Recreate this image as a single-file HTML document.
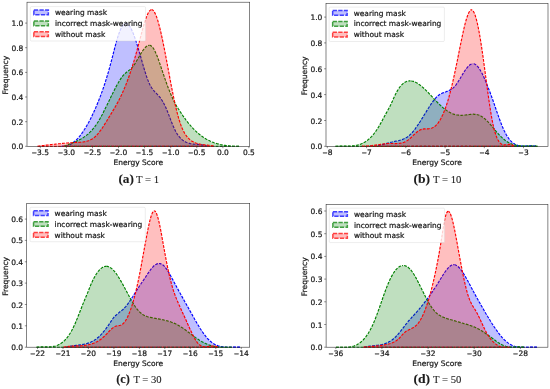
<!DOCTYPE html>
<html lang="en"><head><meta charset="utf-8"><title>Energy score distributions</title>
<style>html,body{margin:0;padding:0;background:#fff}svg{display:block}</style></head>
<body>
<svg width="550" height="389" viewBox="0 0 550 389" font-family="'DejaVu Sans', 'Liberation Sans', sans-serif" fill="#1a1a1a" stroke="#1a1a1a" stroke-width="0.22">
<defs><filter id="bl" x="-2%" y="-2%" width="104%" height="104%"><feGaussianBlur stdDeviation="0.45"/></filter></defs>
<g filter="url(#bl)">
<rect width="550" height="389" fill="#fff" stroke="none"/>
<g>
<clipPath id="cla"><rect x="27.0" y="2.2" width="222.7" height="144.8"/></clipPath>
<g clip-path="url(#cla)">
<path d="M61.6,146.3 L62.6,146.3 L63.6,146.3 L64.6,146.3 L65.6,146.2 L66.6,146.0 L67.6,145.7 L68.6,145.3 L69.6,144.9 L70.6,144.3 L71.6,143.7 L72.6,143.1 L73.6,142.3 L74.6,141.5 L75.6,140.6 L76.6,139.6 L77.6,138.6 L78.6,137.5 L79.6,136.3 L80.6,135.0 L81.6,133.7 L82.6,132.3 L83.6,130.8 L84.6,129.3 L85.6,127.7 L86.6,126.0 L87.6,124.3 L88.6,122.5 L89.6,120.6 L90.6,118.7 L91.6,116.7 L92.6,114.6 L93.6,112.4 L94.6,110.2 L95.6,108.0 L96.6,105.6 L97.6,103.2 L98.6,100.8 L99.6,98.2 L100.6,95.6 L101.6,92.9 L102.6,90.1 L103.6,87.2 L104.6,84.2 L105.6,81.1 L106.6,77.9 L107.6,74.6 L108.6,71.2 L109.6,67.6 L110.6,63.9 L111.6,60.1 L112.6,56.3 L113.6,52.3 L114.6,48.4 L115.6,44.6 L116.6,41.0 L117.6,37.6 L118.6,34.5 L119.6,31.7 L120.6,29.3 L121.6,27.2 L122.6,25.6 L123.6,24.5 L124.6,23.7 L125.6,23.4 L126.6,23.5 L127.6,24.0 L128.6,25.0 L129.6,26.2 L130.6,27.8 L131.6,29.8 L132.6,32.0 L133.6,34.4 L134.6,37.1 L135.6,40.0 L136.6,43.0 L137.6,46.2 L138.6,49.6 L139.6,53.0 L140.6,56.5 L141.6,60.0 L142.6,63.5 L143.6,67.0 L144.6,70.3 L145.6,73.5 L146.6,76.6 L147.6,79.4 L148.6,81.9 L149.6,84.2 L150.6,86.1 L151.6,87.8 L152.6,89.2 L153.6,90.4 L154.6,91.6 L155.6,92.6 L156.6,93.6 L157.6,94.6 L158.6,95.7 L159.6,96.9 L160.6,98.2 L161.6,99.7 L162.6,101.3 L163.6,103.1 L164.6,105.0 L165.6,107.1 L166.6,109.4 L167.6,111.8 L168.6,114.4 L169.6,117.0 L170.6,119.6 L171.6,122.2 L172.6,124.7 L173.6,127.0 L174.6,129.2 L175.6,131.2 L176.6,133.0 L177.6,134.6 L178.6,136.0 L179.6,137.2 L180.6,138.3 L181.6,139.2 L182.6,140.1 L183.6,140.8 L184.6,141.4 L185.6,142.0 L186.6,142.5 L187.6,142.8 L188.6,143.2 L189.6,143.4 L190.6,143.7 L191.6,143.8 L192.6,144.0 L193.6,144.1 L194.6,144.2 L195.6,144.3 L196.6,144.3 L197.6,144.4 L198.6,144.5 L199.6,144.6 L200.6,144.7 L201.6,144.9 L202.6,145.1 L203.6,145.3 L204.6,145.6 L205.6,145.8 L206.6,146.1 L207.6,146.3 Z" fill="#0000ff" fill-opacity="0.25" stroke="none"/>
<path d="M61.6,146.3 L62.6,146.3 L63.6,146.3 L64.6,146.3 L65.6,146.2 L66.6,146.0 L67.6,145.7 L68.6,145.3 L69.6,144.9 L70.6,144.3 L71.6,143.7 L72.6,143.1 L73.6,142.3 L74.6,141.5 L75.6,140.6 L76.6,139.6 L77.6,138.6 L78.6,137.5 L79.6,136.3 L80.6,135.0 L81.6,133.7 L82.6,132.3 L83.6,130.8 L84.6,129.3 L85.6,127.7 L86.6,126.0 L87.6,124.3 L88.6,122.5 L89.6,120.6 L90.6,118.7 L91.6,116.7 L92.6,114.6 L93.6,112.4 L94.6,110.2 L95.6,108.0 L96.6,105.6 L97.6,103.2 L98.6,100.8 L99.6,98.2 L100.6,95.6 L101.6,92.9 L102.6,90.1 L103.6,87.2 L104.6,84.2 L105.6,81.1 L106.6,77.9 L107.6,74.6 L108.6,71.2 L109.6,67.6 L110.6,63.9 L111.6,60.1 L112.6,56.3 L113.6,52.3 L114.6,48.4 L115.6,44.6 L116.6,41.0 L117.6,37.6 L118.6,34.5 L119.6,31.7 L120.6,29.3 L121.6,27.2 L122.6,25.6 L123.6,24.5 L124.6,23.7 L125.6,23.4" fill="none" stroke="#0000ff" stroke-width="1.15" stroke-dasharray="2.85 1.25"/>
<path d="M207.6,146.3 L206.6,146.1 L205.6,145.8 L204.6,145.6 L203.6,145.3 L202.6,145.1 L201.6,144.9 L200.6,144.7 L199.6,144.6 L198.6,144.5 L197.6,144.4 L196.6,144.3 L195.6,144.3 L194.6,144.2 L193.6,144.1 L192.6,144.0 L191.6,143.8 L190.6,143.7 L189.6,143.4 L188.6,143.2 L187.6,142.8 L186.6,142.5 L185.6,142.0 L184.6,141.4 L183.6,140.8 L182.6,140.1 L181.6,139.2 L180.6,138.3 L179.6,137.2 L178.6,136.0 L177.6,134.6 L176.6,133.0 L175.6,131.2 L174.6,129.2 L173.6,127.0 L172.6,124.7 L171.6,122.2 L170.6,119.6 L169.6,117.0 L168.6,114.4 L167.6,111.8 L166.6,109.4 L165.6,107.1 L164.6,105.0 L163.6,103.1 L162.6,101.3 L161.6,99.7 L160.6,98.2 L159.6,96.9 L158.6,95.7 L157.6,94.6 L156.6,93.6 L155.6,92.6 L154.6,91.6 L153.6,90.4 L152.6,89.2 L151.6,87.8 L150.6,86.1 L149.6,84.2 L148.6,81.9 L147.6,79.4 L146.6,76.6 L145.6,73.5 L144.6,70.3 L143.6,67.0 L142.6,63.5 L141.6,60.0 L140.6,56.5 L139.6,53.0 L138.6,49.6 L137.6,46.2 L136.6,43.0 L135.6,40.0 L134.6,37.1 L133.6,34.4 L132.6,32.0 L131.6,29.8 L130.6,27.8 L129.6,26.2 L128.6,25.0 L127.6,24.0 L126.6,23.5 L125.6,23.4" fill="none" stroke="#0000ff" stroke-width="1.15" stroke-dasharray="2.85 1.25"/>
<path d="M61.6,146.3 L125.6,146.3" fill="none" stroke="#0000ff" stroke-width="1.15" stroke-dasharray="2.85 1.25"/>
<path d="M207.6,146.3 L125.6,146.3" fill="none" stroke="#0000ff" stroke-width="1.15" stroke-dasharray="2.85 1.25"/>
<path d="M64.0,146.3 L65.0,145.9 L66.0,145.4 L67.0,145.0 L68.0,144.6 L69.0,144.2 L70.0,143.9 L71.0,143.5 L72.0,143.1 L73.0,142.7 L74.0,142.3 L75.0,141.9 L76.0,141.5 L77.0,141.0 L78.0,140.6 L79.0,140.1 L80.0,139.5 L81.0,139.0 L82.0,138.4 L83.0,137.8 L84.0,137.1 L85.0,136.4 L86.0,135.7 L87.0,134.9 L88.0,134.1 L89.0,133.1 L90.0,132.2 L91.0,131.2 L92.0,130.1 L93.0,128.9 L94.0,127.7 L95.0,126.4 L96.0,125.0 L97.0,123.5 L98.0,122.0 L99.0,120.3 L100.0,118.6 L101.0,116.8 L102.0,115.0 L103.0,113.1 L104.0,111.1 L105.0,109.1 L106.0,107.1 L107.0,105.1 L108.0,103.0 L109.0,100.9 L110.0,98.9 L111.0,96.8 L112.0,94.7 L113.0,92.7 L114.0,90.7 L115.0,88.8 L116.0,86.8 L117.0,85.0 L118.0,83.2 L119.0,81.5 L120.0,79.9 L121.0,78.4 L122.0,77.0 L123.0,75.7 L124.0,74.6 L125.0,73.6 L126.0,72.7 L127.0,71.9 L128.0,71.2 L129.0,70.4 L130.0,69.6 L131.0,68.7 L132.0,67.7 L133.0,66.5 L134.0,65.1 L135.0,63.6 L136.0,61.9 L137.0,60.2 L138.0,58.5 L139.0,56.8 L140.0,55.0 L141.0,53.4 L142.0,51.8 L143.0,50.3 L144.0,49.0 L145.0,47.8 L146.0,46.8 L147.0,46.0 L148.0,45.5 L149.0,45.3 L150.0,45.4 L151.0,45.8 L152.0,46.6 L153.0,47.8 L154.0,49.3 L155.0,51.2 L156.0,53.4 L157.0,55.8 L158.0,58.4 L159.0,61.2 L160.0,64.1 L161.0,67.1 L162.0,70.0 L163.0,73.0 L164.0,75.9 L165.0,78.9 L166.0,81.7 L167.0,84.5 L168.0,87.2 L169.0,89.8 L170.0,92.3 L171.0,94.7 L172.0,97.0 L173.0,99.2 L174.0,101.2 L175.0,103.2 L176.0,105.0 L177.0,106.7 L178.0,108.3 L179.0,109.8 L180.0,111.4 L181.0,112.9 L182.0,114.3 L183.0,115.8 L184.0,117.2 L185.0,118.6 L186.0,120.0 L187.0,121.3 L188.0,122.6 L189.0,123.8 L190.0,125.0 L191.0,126.2 L192.0,127.3 L193.0,128.4 L194.0,129.4 L195.0,130.4 L196.0,131.3 L197.0,132.3 L198.0,133.1 L199.0,134.0 L200.0,134.8 L201.0,135.5 L202.0,136.3 L203.0,137.0 L204.0,137.6 L205.0,138.3 L206.0,138.9 L207.0,139.4 L208.0,140.0 L209.0,140.5 L210.0,141.0 L211.0,141.4 L212.0,141.9 L213.0,142.3 L214.0,142.7 L215.0,143.0 L216.0,143.3 L217.0,143.7 L218.0,143.9 L219.0,144.2 L220.0,144.5 L221.0,144.7 L222.0,144.9 L223.0,145.1 L224.0,145.3 L225.0,145.4 L226.0,145.6 L227.0,145.7 L228.0,145.8 L229.0,145.9 L230.0,146.0 L231.0,146.1 L232.0,146.1 L233.0,146.2 L234.0,146.2 L235.0,146.2 L236.0,146.3 L237.0,146.3 L238.0,146.3 L239.0,146.3 Z" fill="#008000" fill-opacity="0.25" stroke="none"/>
<path d="M64.0,146.3 L65.0,145.9 L66.0,145.4 L67.0,145.0 L68.0,144.6 L69.0,144.2 L70.0,143.9 L71.0,143.5 L72.0,143.1 L73.0,142.7 L74.0,142.3 L75.0,141.9 L76.0,141.5 L77.0,141.0 L78.0,140.6 L79.0,140.1 L80.0,139.5 L81.0,139.0 L82.0,138.4 L83.0,137.8 L84.0,137.1 L85.0,136.4 L86.0,135.7 L87.0,134.9 L88.0,134.1 L89.0,133.1 L90.0,132.2 L91.0,131.2 L92.0,130.1 L93.0,128.9 L94.0,127.7 L95.0,126.4 L96.0,125.0 L97.0,123.5 L98.0,122.0 L99.0,120.3 L100.0,118.6 L101.0,116.8 L102.0,115.0 L103.0,113.1 L104.0,111.1 L105.0,109.1 L106.0,107.1 L107.0,105.1 L108.0,103.0 L109.0,100.9 L110.0,98.9 L111.0,96.8 L112.0,94.7 L113.0,92.7 L114.0,90.7 L115.0,88.8 L116.0,86.8 L117.0,85.0 L118.0,83.2 L119.0,81.5 L120.0,79.9 L121.0,78.4 L122.0,77.0 L123.0,75.7 L124.0,74.6 L125.0,73.6 L126.0,72.7 L127.0,71.9 L128.0,71.2 L129.0,70.4 L130.0,69.6 L131.0,68.7 L132.0,67.7 L133.0,66.5 L134.0,65.1 L135.0,63.6 L136.0,61.9 L137.0,60.2 L138.0,58.5 L139.0,56.8 L140.0,55.0 L141.0,53.4 L142.0,51.8 L143.0,50.3 L144.0,49.0 L145.0,47.8 L146.0,46.8 L147.0,46.0 L148.0,45.5 L149.0,45.3" fill="none" stroke="#008000" stroke-width="1.15" stroke-dasharray="2.85 1.25"/>
<path d="M239.0,146.3 L238.0,146.3 L237.0,146.3 L236.0,146.3 L235.0,146.2 L234.0,146.2 L233.0,146.2 L232.0,146.1 L231.0,146.1 L230.0,146.0 L229.0,145.9 L228.0,145.8 L227.0,145.7 L226.0,145.6 L225.0,145.4 L224.0,145.3 L223.0,145.1 L222.0,144.9 L221.0,144.7 L220.0,144.5 L219.0,144.2 L218.0,143.9 L217.0,143.7 L216.0,143.3 L215.0,143.0 L214.0,142.7 L213.0,142.3 L212.0,141.9 L211.0,141.4 L210.0,141.0 L209.0,140.5 L208.0,140.0 L207.0,139.4 L206.0,138.9 L205.0,138.3 L204.0,137.6 L203.0,137.0 L202.0,136.3 L201.0,135.5 L200.0,134.8 L199.0,134.0 L198.0,133.1 L197.0,132.3 L196.0,131.3 L195.0,130.4 L194.0,129.4 L193.0,128.4 L192.0,127.3 L191.0,126.2 L190.0,125.0 L189.0,123.8 L188.0,122.6 L187.0,121.3 L186.0,120.0 L185.0,118.6 L184.0,117.2 L183.0,115.8 L182.0,114.3 L181.0,112.9 L180.0,111.4 L179.0,109.8 L178.0,108.3 L177.0,106.7 L176.0,105.0 L175.0,103.2 L174.0,101.2 L173.0,99.2 L172.0,97.0 L171.0,94.7 L170.0,92.3 L169.0,89.8 L168.0,87.2 L167.0,84.5 L166.0,81.7 L165.0,78.9 L164.0,75.9 L163.0,73.0 L162.0,70.0 L161.0,67.1 L160.0,64.1 L159.0,61.2 L158.0,58.4 L157.0,55.8 L156.0,53.4 L155.0,51.2 L154.0,49.3 L153.0,47.8 L152.0,46.6 L151.0,45.8 L150.0,45.4 L149.0,45.3" fill="none" stroke="#008000" stroke-width="1.15" stroke-dasharray="2.85 1.25"/>
<path d="M64.0,146.3 L149.0,146.3" fill="none" stroke="#008000" stroke-width="1.15" stroke-dasharray="2.85 1.25"/>
<path d="M239.0,146.3 L149.0,146.3" fill="none" stroke="#008000" stroke-width="1.15" stroke-dasharray="2.85 1.25"/>
<path d="M37.6,146.3 L38.6,146.2 L39.6,146.0 L40.6,145.9 L41.6,145.8 L42.6,145.6 L43.6,145.5 L44.6,145.4 L45.6,145.2 L46.6,145.1 L47.6,145.0 L48.6,144.9 L49.6,144.8 L50.6,144.6 L51.6,144.5 L52.6,144.4 L53.6,144.3 L54.6,144.2 L55.6,144.1 L56.6,144.0 L57.6,143.9 L58.6,143.8 L59.6,143.7 L60.6,143.6 L61.6,143.5 L62.6,143.4 L63.6,143.3 L64.6,143.2 L65.6,143.1 L66.6,143.0 L67.6,143.0 L68.6,142.9 L69.6,142.8 L70.6,142.7 L71.6,142.7 L72.6,142.6 L73.6,142.5 L74.6,142.5 L75.6,142.4 L76.6,142.4 L77.6,142.3 L78.6,142.3 L79.6,142.2 L80.6,142.2 L81.6,142.1 L82.6,142.0 L83.6,141.9 L84.6,141.7 L85.6,141.5 L86.6,141.3 L87.6,141.0 L88.6,140.7 L89.6,140.3 L90.6,139.8 L91.6,139.3 L92.6,138.7 L93.6,138.0 L94.6,137.2 L95.6,136.3 L96.6,135.3 L97.6,134.2 L98.6,133.0 L99.6,131.7 L100.6,130.4 L101.6,129.0 L102.6,127.5 L103.6,126.0 L104.6,124.4 L105.6,122.8 L106.6,121.2 L107.6,119.5 L108.6,117.9 L109.6,116.2 L110.6,114.6 L111.6,112.9 L112.6,111.3 L113.6,109.6 L114.6,107.9 L115.6,106.2 L116.6,104.4 L117.6,102.6 L118.6,100.8 L119.6,98.8 L120.6,96.8 L121.6,94.7 L122.6,92.6 L123.6,90.3 L124.6,87.9 L125.6,85.5 L126.6,82.9 L127.6,80.3 L128.6,77.5 L129.6,74.7 L130.6,71.7 L131.6,68.7 L132.6,65.5 L133.6,62.3 L134.6,58.9 L135.6,55.4 L136.6,51.9 L137.6,48.2 L138.6,44.4 L139.6,40.6 L140.6,36.8 L141.6,33.0 L142.6,29.3 L143.6,25.7 L144.6,22.4 L145.6,19.3 L146.6,16.5 L147.6,14.2 L148.6,12.2 L149.6,10.8 L150.6,9.9 L151.6,9.6 L152.6,9.9 L153.6,10.9 L154.6,12.4 L155.6,14.4 L156.6,16.9 L157.6,19.9 L158.6,23.3 L159.6,27.1 L160.6,31.2 L161.6,35.6 L162.6,40.2 L163.6,45.1 L164.6,50.1 L165.6,55.3 L166.6,60.6 L167.6,66.0 L168.6,71.3 L169.6,76.7 L170.6,82.0 L171.6,87.2 L172.6,92.2 L173.6,97.1 L174.6,101.8 L175.6,106.3 L176.6,110.4 L177.6,114.3 L178.6,118.0 L179.6,121.3 L180.6,124.3 L181.6,127.0 L182.6,129.3 L183.6,131.4 L184.6,133.2 L185.6,134.8 L186.6,136.2 L187.6,137.4 L188.6,138.4 L189.6,139.4 L190.6,140.2 L191.6,140.9 L192.6,141.5 L193.6,142.1 L194.6,142.5 L195.6,143.0 L196.6,143.3 L197.6,143.6 L198.6,143.9 L199.6,144.1 L200.6,144.3 L201.6,144.5 L202.6,144.6 L203.6,144.7 L204.6,144.8 L205.6,144.9 L206.6,145.0 L207.6,145.1 L208.6,145.2 L209.6,145.3 L210.6,145.5 L211.6,145.7 L212.6,145.9 L213.6,146.3 Z" fill="#ff0000" fill-opacity="0.25" stroke="none"/>
<path d="M37.6,146.3 L38.6,146.2 L39.6,146.0 L40.6,145.9 L41.6,145.8 L42.6,145.6 L43.6,145.5 L44.6,145.4 L45.6,145.2 L46.6,145.1 L47.6,145.0 L48.6,144.9 L49.6,144.8 L50.6,144.6 L51.6,144.5 L52.6,144.4 L53.6,144.3 L54.6,144.2 L55.6,144.1 L56.6,144.0 L57.6,143.9 L58.6,143.8 L59.6,143.7 L60.6,143.6 L61.6,143.5 L62.6,143.4 L63.6,143.3 L64.6,143.2 L65.6,143.1 L66.6,143.0 L67.6,143.0 L68.6,142.9 L69.6,142.8 L70.6,142.7 L71.6,142.7 L72.6,142.6 L73.6,142.5 L74.6,142.5 L75.6,142.4 L76.6,142.4 L77.6,142.3 L78.6,142.3 L79.6,142.2 L80.6,142.2 L81.6,142.1 L82.6,142.0 L83.6,141.9 L84.6,141.7 L85.6,141.5 L86.6,141.3 L87.6,141.0 L88.6,140.7 L89.6,140.3 L90.6,139.8 L91.6,139.3 L92.6,138.7 L93.6,138.0 L94.6,137.2 L95.6,136.3 L96.6,135.3 L97.6,134.2 L98.6,133.0 L99.6,131.7 L100.6,130.4 L101.6,129.0 L102.6,127.5 L103.6,126.0 L104.6,124.4 L105.6,122.8 L106.6,121.2 L107.6,119.5 L108.6,117.9 L109.6,116.2 L110.6,114.6 L111.6,112.9 L112.6,111.3 L113.6,109.6 L114.6,107.9 L115.6,106.2 L116.6,104.4 L117.6,102.6 L118.6,100.8 L119.6,98.8 L120.6,96.8 L121.6,94.7 L122.6,92.6 L123.6,90.3 L124.6,87.9 L125.6,85.5 L126.6,82.9 L127.6,80.3 L128.6,77.5 L129.6,74.7 L130.6,71.7 L131.6,68.7 L132.6,65.5 L133.6,62.3 L134.6,58.9 L135.6,55.4 L136.6,51.9 L137.6,48.2 L138.6,44.4 L139.6,40.6 L140.6,36.8 L141.6,33.0 L142.6,29.3 L143.6,25.7 L144.6,22.4 L145.6,19.3 L146.6,16.5 L147.6,14.2 L148.6,12.2 L149.6,10.8 L150.6,9.9 L151.6,9.6" fill="none" stroke="#ff0000" stroke-width="1.15" stroke-dasharray="2.85 1.25"/>
<path d="M213.6,146.3 L212.6,145.9 L211.6,145.7 L210.6,145.5 L209.6,145.3 L208.6,145.2 L207.6,145.1 L206.6,145.0 L205.6,144.9 L204.6,144.8 L203.6,144.7 L202.6,144.6 L201.6,144.5 L200.6,144.3 L199.6,144.1 L198.6,143.9 L197.6,143.6 L196.6,143.3 L195.6,143.0 L194.6,142.5 L193.6,142.1 L192.6,141.5 L191.6,140.9 L190.6,140.2 L189.6,139.4 L188.6,138.4 L187.6,137.4 L186.6,136.2 L185.6,134.8 L184.6,133.2 L183.6,131.4 L182.6,129.3 L181.6,127.0 L180.6,124.3 L179.6,121.3 L178.6,118.0 L177.6,114.3 L176.6,110.4 L175.6,106.3 L174.6,101.8 L173.6,97.1 L172.6,92.2 L171.6,87.2 L170.6,82.0 L169.6,76.7 L168.6,71.3 L167.6,66.0 L166.6,60.6 L165.6,55.3 L164.6,50.1 L163.6,45.1 L162.6,40.2 L161.6,35.6 L160.6,31.2 L159.6,27.1 L158.6,23.3 L157.6,19.9 L156.6,16.9 L155.6,14.4 L154.6,12.4 L153.6,10.9 L152.6,9.9 L151.6,9.6" fill="none" stroke="#ff0000" stroke-width="1.15" stroke-dasharray="2.85 1.25"/>
<path d="M37.6,146.3 L151.6,146.3" fill="none" stroke="#ff0000" stroke-width="1.15" stroke-dasharray="2.85 1.25"/>
<path d="M213.6,146.3 L151.6,146.3" fill="none" stroke="#ff0000" stroke-width="1.15" stroke-dasharray="2.85 1.25"/>
</g>
<rect x="27.0" y="2.2" width="222.7" height="144.1" fill="none" stroke="#333" stroke-width="0.6"/>
<path d="M40.3,146.3 v1.9" stroke="#222" stroke-width="0.5"/>
<text x="40.3" y="155.4" text-anchor="middle" font-size="7.5"><tspan font-size="6.6">−</tspan>3.5</text>
<path d="M66.4,146.3 v1.9" stroke="#222" stroke-width="0.5"/>
<text x="66.4" y="155.4" text-anchor="middle" font-size="7.5"><tspan font-size="6.6">−</tspan>3.0</text>
<path d="M92.5,146.3 v1.9" stroke="#222" stroke-width="0.5"/>
<text x="92.5" y="155.4" text-anchor="middle" font-size="7.5"><tspan font-size="6.6">−</tspan>2.5</text>
<path d="M118.5,146.3 v1.9" stroke="#222" stroke-width="0.5"/>
<text x="118.5" y="155.4" text-anchor="middle" font-size="7.5"><tspan font-size="6.6">−</tspan>2.0</text>
<path d="M144.6,146.3 v1.9" stroke="#222" stroke-width="0.5"/>
<text x="144.6" y="155.4" text-anchor="middle" font-size="7.5"><tspan font-size="6.6">−</tspan>1.5</text>
<path d="M170.7,146.3 v1.9" stroke="#222" stroke-width="0.5"/>
<text x="170.7" y="155.4" text-anchor="middle" font-size="7.5"><tspan font-size="6.6">−</tspan>1.0</text>
<path d="M196.8,146.3 v1.9" stroke="#222" stroke-width="0.5"/>
<text x="196.8" y="155.4" text-anchor="middle" font-size="7.5"><tspan font-size="6.6">−</tspan>0.5</text>
<path d="M222.9,146.3 v1.9" stroke="#222" stroke-width="0.5"/>
<text x="222.9" y="155.4" text-anchor="middle" font-size="7.5">0.0</text>
<path d="M248.9,146.3 v1.9" stroke="#222" stroke-width="0.5"/>
<text x="248.9" y="155.4" text-anchor="middle" font-size="7.5">0.5</text>
<path d="M27.0,146.3 h-1.9" stroke="#222" stroke-width="0.5"/>
<text x="23.4" y="149.3" text-anchor="end" font-size="7.5">0.0</text>
<path d="M27.0,121.7 h-1.9" stroke="#222" stroke-width="0.5"/>
<text x="23.4" y="124.7" text-anchor="end" font-size="7.5">0.2</text>
<path d="M27.0,97.0 h-1.9" stroke="#222" stroke-width="0.5"/>
<text x="23.4" y="100.0" text-anchor="end" font-size="7.5">0.4</text>
<path d="M27.0,72.4 h-1.9" stroke="#222" stroke-width="0.5"/>
<text x="23.4" y="75.4" text-anchor="end" font-size="7.5">0.6</text>
<path d="M27.0,47.7 h-1.9" stroke="#222" stroke-width="0.5"/>
<text x="23.4" y="50.7" text-anchor="end" font-size="7.5">0.8</text>
<path d="M27.0,23.1 h-1.9" stroke="#222" stroke-width="0.5"/>
<text x="23.4" y="26.1" text-anchor="end" font-size="7.5">1.0</text>
<text x="138.3" y="164.5" text-anchor="middle" font-size="7.5">Energy Score</text>
<text transform="translate(8.3,75.2) rotate(-90)" text-anchor="middle" font-size="7.5">Frequency</text>
<rect x="30.3" y="6.6" width="115.3" height="34.4" rx="1.2" fill="#fff" fill-opacity="0.8" stroke="#ccc" stroke-opacity="0.8" stroke-width="0.45"/>
<rect x="33.85" y="10.05" width="14.5" height="4.7" fill="#0000ff" fill-opacity="0.25" stroke="#0000ff" stroke-width="1.5" stroke-opacity="0.72" stroke-dasharray="4.3 1.3"/>
<text x="54.9" y="15.05" font-size="7.45">wearing mask</text>
<rect x="33.85" y="20.95" width="14.5" height="4.7" fill="#008000" fill-opacity="0.25" stroke="#008000" stroke-width="1.5" stroke-opacity="0.72" stroke-dasharray="4.3 1.3"/>
<text x="54.9" y="25.95" font-size="7.45">incorrect mask-wearing</text>
<rect x="33.85" y="31.85" width="14.5" height="4.7" fill="#ff0000" fill-opacity="0.25" stroke="#ff0000" stroke-width="1.5" stroke-opacity="0.72" stroke-dasharray="4.3 1.3"/>
<text x="54.9" y="36.85" font-size="7.45">without mask</text>
<text x="118.4" y="182.5" font-family="'Liberation Serif', 'DejaVu Serif', serif" font-size="11.9" font-weight="bold" fill="#1c1c1c" stroke-width="0.1" textLength="15.5" lengthAdjust="spacingAndGlyphs">(a)</text>
<text x="136.0" y="182.5" font-family="'Liberation Serif', 'DejaVu Serif', serif" font-size="11.2" fill="#1c1c1c" stroke-width="0.1" textLength="23.1" lengthAdjust="spacingAndGlyphs">T = 1</text>
</g>
<g>
<clipPath id="clb"><rect x="326.0" y="3.5" width="222.0" height="143.5"/></clipPath>
<g clip-path="url(#clb)">
<path d="M370.0,146.3 L371.0,146.3 L372.0,146.3 L373.0,146.3 L374.0,146.3 L375.0,146.2 L376.0,146.0 L377.0,145.9 L378.0,145.7 L379.0,145.5 L380.0,145.2 L381.0,145.0 L382.0,144.7 L383.0,144.4 L384.0,144.2 L385.0,143.9 L386.0,143.6 L387.0,143.3 L388.0,143.0 L389.0,142.7 L390.0,142.5 L391.0,142.2 L392.0,142.0 L393.0,141.7 L394.0,141.5 L395.0,141.3 L396.0,141.1 L397.0,140.9 L398.0,140.7 L399.0,140.5 L400.0,140.2 L401.0,139.9 L402.0,139.6 L403.0,139.2 L404.0,138.8 L405.0,138.3 L406.0,137.8 L407.0,137.2 L408.0,136.5 L409.0,135.7 L410.0,134.8 L411.0,133.8 L412.0,132.8 L413.0,131.6 L414.0,130.4 L415.0,129.1 L416.0,127.7 L417.0,126.3 L418.0,124.8 L419.0,123.3 L420.0,121.8 L421.0,120.2 L422.0,118.6 L423.0,117.0 L424.0,115.3 L425.0,113.7 L426.0,112.1 L427.0,110.4 L428.0,108.8 L429.0,107.3 L430.0,105.7 L431.0,104.2 L432.0,102.8 L433.0,101.4 L434.0,100.1 L435.0,98.8 L436.0,97.7 L437.0,96.7 L438.0,95.8 L439.0,95.0 L440.0,94.3 L441.0,93.8 L442.0,93.3 L443.0,92.9 L444.0,92.5 L445.0,92.1 L446.0,91.8 L447.0,91.4 L448.0,91.1 L449.0,90.6 L450.0,90.1 L451.0,89.6 L452.0,88.9 L453.0,88.1 L454.0,87.2 L455.0,86.1 L456.0,84.8 L457.0,83.4 L458.0,81.9 L459.0,80.3 L460.0,78.7 L461.0,77.0 L462.0,75.3 L463.0,73.6 L464.0,72.0 L465.0,70.5 L466.0,69.1 L467.0,67.8 L468.0,66.6 L469.0,65.6 L470.0,64.8 L471.0,64.2 L472.0,63.8 L473.0,63.7 L474.0,63.8 L475.0,64.2 L476.0,64.9 L477.0,65.8 L478.0,66.9 L479.0,68.2 L480.0,69.7 L481.0,71.5 L482.0,73.3 L483.0,75.3 L484.0,77.5 L485.0,79.8 L486.0,82.1 L487.0,84.6 L488.0,87.1 L489.0,89.7 L490.0,92.3 L491.0,95.0 L492.0,97.7 L493.0,100.5 L494.0,103.4 L495.0,106.3 L496.0,109.2 L497.0,112.1 L498.0,114.9 L499.0,117.8 L500.0,120.5 L501.0,123.1 L502.0,125.7 L503.0,128.1 L504.0,130.3 L505.0,132.3 L506.0,134.2 L507.0,135.9 L508.0,137.4 L509.0,138.8 L510.0,140.0 L511.0,141.1 L512.0,142.1 L513.0,142.9 L514.0,143.6 L515.0,144.2 L516.0,144.7 L517.0,145.1 L518.0,145.5 L519.0,145.7 L520.0,145.9 L521.0,146.1 L522.0,146.1 L523.0,146.2 L524.0,146.2 L525.0,146.1 L526.0,146.1 L527.0,146.0 L528.0,146.0 L529.0,145.9 L530.0,145.9 L531.0,145.8 L532.0,145.8 L533.0,145.9 L534.0,146.0 L535.0,146.1 L536.0,146.3 Z" fill="#0000ff" fill-opacity="0.25" stroke="none"/>
<path d="M370.0,146.3 L371.0,146.3 L372.0,146.3 L373.0,146.3 L374.0,146.3 L375.0,146.2 L376.0,146.0 L377.0,145.9 L378.0,145.7 L379.0,145.5 L380.0,145.2 L381.0,145.0 L382.0,144.7 L383.0,144.4 L384.0,144.2 L385.0,143.9 L386.0,143.6 L387.0,143.3 L388.0,143.0 L389.0,142.7 L390.0,142.5 L391.0,142.2 L392.0,142.0 L393.0,141.7 L394.0,141.5 L395.0,141.3 L396.0,141.1 L397.0,140.9 L398.0,140.7 L399.0,140.5 L400.0,140.2 L401.0,139.9 L402.0,139.6 L403.0,139.2 L404.0,138.8 L405.0,138.3 L406.0,137.8 L407.0,137.2 L408.0,136.5 L409.0,135.7 L410.0,134.8 L411.0,133.8 L412.0,132.8 L413.0,131.6 L414.0,130.4 L415.0,129.1 L416.0,127.7 L417.0,126.3 L418.0,124.8 L419.0,123.3 L420.0,121.8 L421.0,120.2 L422.0,118.6 L423.0,117.0 L424.0,115.3 L425.0,113.7 L426.0,112.1 L427.0,110.4 L428.0,108.8 L429.0,107.3 L430.0,105.7 L431.0,104.2 L432.0,102.8 L433.0,101.4 L434.0,100.1 L435.0,98.8 L436.0,97.7 L437.0,96.7 L438.0,95.8 L439.0,95.0 L440.0,94.3 L441.0,93.8 L442.0,93.3 L443.0,92.9 L444.0,92.5 L445.0,92.1 L446.0,91.8 L447.0,91.4 L448.0,91.1 L449.0,90.6 L450.0,90.1 L451.0,89.6 L452.0,88.9 L453.0,88.1 L454.0,87.2 L455.0,86.1 L456.0,84.8 L457.0,83.4 L458.0,81.9 L459.0,80.3 L460.0,78.7 L461.0,77.0 L462.0,75.3 L463.0,73.6 L464.0,72.0 L465.0,70.5 L466.0,69.1 L467.0,67.8 L468.0,66.6 L469.0,65.6 L470.0,64.8 L471.0,64.2 L472.0,63.8 L473.0,63.7" fill="none" stroke="#0000ff" stroke-width="1.15" stroke-dasharray="2.85 1.25"/>
<path d="M536.0,146.3 L535.0,146.1 L534.0,146.0 L533.0,145.9 L532.0,145.8 L531.0,145.8 L530.0,145.9 L529.0,145.9 L528.0,146.0 L527.0,146.0 L526.0,146.1 L525.0,146.1 L524.0,146.2 L523.0,146.2 L522.0,146.1 L521.0,146.1 L520.0,145.9 L519.0,145.7 L518.0,145.5 L517.0,145.1 L516.0,144.7 L515.0,144.2 L514.0,143.6 L513.0,142.9 L512.0,142.1 L511.0,141.1 L510.0,140.0 L509.0,138.8 L508.0,137.4 L507.0,135.9 L506.0,134.2 L505.0,132.3 L504.0,130.3 L503.0,128.1 L502.0,125.7 L501.0,123.1 L500.0,120.5 L499.0,117.8 L498.0,114.9 L497.0,112.1 L496.0,109.2 L495.0,106.3 L494.0,103.4 L493.0,100.5 L492.0,97.7 L491.0,95.0 L490.0,92.3 L489.0,89.7 L488.0,87.1 L487.0,84.6 L486.0,82.1 L485.0,79.8 L484.0,77.5 L483.0,75.3 L482.0,73.3 L481.0,71.5 L480.0,69.7 L479.0,68.2 L478.0,66.9 L477.0,65.8 L476.0,64.9 L475.0,64.2 L474.0,63.8 L473.0,63.7" fill="none" stroke="#0000ff" stroke-width="1.15" stroke-dasharray="2.85 1.25"/>
<path d="M370.0,146.3 L473.0,146.3" fill="none" stroke="#0000ff" stroke-width="1.15" stroke-dasharray="2.85 1.25"/>
<path d="M536.0,146.3 L473.0,146.3" fill="none" stroke="#0000ff" stroke-width="1.15" stroke-dasharray="2.85 1.25"/>
<path d="M335.5,146.3 L336.5,146.2 L337.5,146.2 L338.5,146.1 L339.5,146.1 L340.5,146.1 L341.5,146.1 L342.5,146.1 L343.5,146.1 L344.5,146.1 L345.5,146.1 L346.5,146.1 L347.5,146.1 L348.5,146.1 L349.5,146.1 L350.5,146.1 L351.5,146.0 L352.5,145.9 L353.5,145.8 L354.5,145.7 L355.5,145.5 L356.5,145.3 L357.5,145.1 L358.5,144.8 L359.5,144.5 L360.5,144.2 L361.5,143.8 L362.5,143.3 L363.5,142.8 L364.5,142.3 L365.5,141.7 L366.5,141.0 L367.5,140.2 L368.5,139.4 L369.5,138.6 L370.5,137.6 L371.5,136.6 L372.5,135.5 L373.5,134.3 L374.5,133.0 L375.5,131.7 L376.5,130.2 L377.5,128.7 L378.5,127.1 L379.5,125.4 L380.5,123.6 L381.5,121.8 L382.5,119.9 L383.5,118.1 L384.5,116.2 L385.5,114.4 L386.5,112.6 L387.5,110.8 L388.5,109.0 L389.5,107.2 L390.5,105.3 L391.5,103.1 L392.5,100.9 L393.5,98.6 L394.5,96.4 L395.5,94.3 L396.5,92.3 L397.5,90.6 L398.5,89.0 L399.5,87.5 L400.5,86.2 L401.5,85.1 L402.5,84.1 L403.5,83.3 L404.5,82.6 L405.5,82.0 L406.5,81.5 L407.5,81.2 L408.5,81.0 L409.5,80.9 L410.5,80.9 L411.5,81.0 L412.5,81.2 L413.5,81.4 L414.5,81.8 L415.5,82.2 L416.5,82.8 L417.5,83.3 L418.5,84.0 L419.5,84.7 L420.5,85.4 L421.5,86.3 L422.5,87.1 L423.5,88.0 L424.5,88.9 L425.5,89.9 L426.5,90.9 L427.5,91.9 L428.5,92.9 L429.5,94.0 L430.5,95.0 L431.5,96.1 L432.5,97.2 L433.5,98.3 L434.5,99.3 L435.5,100.4 L436.5,101.4 L437.5,102.5 L438.5,103.5 L439.5,104.5 L440.5,105.4 L441.5,106.3 L442.5,107.2 L443.5,108.1 L444.5,108.9 L445.5,109.7 L446.5,110.4 L447.5,111.1 L448.5,111.7 L449.5,112.3 L450.5,112.8 L451.5,113.3 L452.5,113.7 L453.5,114.1 L454.5,114.4 L455.5,114.7 L456.5,114.9 L457.5,115.0 L458.5,115.1 L459.5,115.2 L460.5,115.3 L461.5,115.3 L462.5,115.2 L463.5,115.2 L464.5,115.1 L465.5,115.0 L466.5,114.9 L467.5,114.8 L468.5,114.6 L469.5,114.5 L470.5,114.4 L471.5,114.3 L472.5,114.3 L473.5,114.2 L474.5,114.3 L475.5,114.3 L476.5,114.5 L477.5,114.7 L478.5,115.0 L479.5,115.3 L480.5,115.8 L481.5,116.4 L482.5,117.0 L483.5,117.7 L484.5,118.5 L485.5,119.4 L486.5,120.4 L487.5,121.4 L488.5,122.4 L489.5,123.5 L490.5,124.7 L491.5,125.8 L492.5,127.0 L493.5,128.2 L494.5,129.4 L495.5,130.6 L496.5,131.8 L497.5,133.0 L498.5,134.1 L499.5,135.2 L500.5,136.2 L501.5,137.2 L502.5,138.1 L503.5,139.0 L504.5,139.8 L505.5,140.6 L506.5,141.3 L507.5,141.9 L508.5,142.5 L509.5,143.0 L510.5,143.5 L511.5,143.9 L512.5,144.3 L513.5,144.6 L514.5,144.9 L515.5,145.1 L516.5,145.3 L517.5,145.5 L518.5,145.7 L519.5,145.8 L520.5,145.9 L521.5,145.9 L522.5,146.0 L523.5,146.0 L524.5,146.0 L525.5,146.0 L526.5,146.0 L527.5,146.0 L528.5,146.0 L529.5,146.0 L530.5,146.0 L531.5,146.0 L532.5,146.0 L533.5,146.0 L534.5,146.0 L535.5,146.1 L536.5,146.2 L537.5,146.3 Z" fill="#008000" fill-opacity="0.25" stroke="none"/>
<path d="M335.5,146.3 L336.5,146.2 L337.5,146.2 L338.5,146.1 L339.5,146.1 L340.5,146.1 L341.5,146.1 L342.5,146.1 L343.5,146.1 L344.5,146.1 L345.5,146.1 L346.5,146.1 L347.5,146.1 L348.5,146.1 L349.5,146.1 L350.5,146.1 L351.5,146.0 L352.5,145.9 L353.5,145.8 L354.5,145.7 L355.5,145.5 L356.5,145.3 L357.5,145.1 L358.5,144.8 L359.5,144.5 L360.5,144.2 L361.5,143.8 L362.5,143.3 L363.5,142.8 L364.5,142.3 L365.5,141.7 L366.5,141.0 L367.5,140.2 L368.5,139.4 L369.5,138.6 L370.5,137.6 L371.5,136.6 L372.5,135.5 L373.5,134.3 L374.5,133.0 L375.5,131.7 L376.5,130.2 L377.5,128.7 L378.5,127.1 L379.5,125.4 L380.5,123.6 L381.5,121.8 L382.5,119.9 L383.5,118.1 L384.5,116.2 L385.5,114.4 L386.5,112.6 L387.5,110.8 L388.5,109.0 L389.5,107.2 L390.5,105.3 L391.5,103.1 L392.5,100.9 L393.5,98.6 L394.5,96.4 L395.5,94.3 L396.5,92.3 L397.5,90.6 L398.5,89.0 L399.5,87.5 L400.5,86.2 L401.5,85.1 L402.5,84.1 L403.5,83.3 L404.5,82.6 L405.5,82.0 L406.5,81.5 L407.5,81.2 L408.5,81.0 L409.5,80.9 L410.5,80.9" fill="none" stroke="#008000" stroke-width="1.15" stroke-dasharray="2.85 1.25"/>
<path d="M537.5,146.3 L536.5,146.2 L535.5,146.1 L534.5,146.0 L533.5,146.0 L532.5,146.0 L531.5,146.0 L530.5,146.0 L529.5,146.0 L528.5,146.0 L527.5,146.0 L526.5,146.0 L525.5,146.0 L524.5,146.0 L523.5,146.0 L522.5,146.0 L521.5,145.9 L520.5,145.9 L519.5,145.8 L518.5,145.7 L517.5,145.5 L516.5,145.3 L515.5,145.1 L514.5,144.9 L513.5,144.6 L512.5,144.3 L511.5,143.9 L510.5,143.5 L509.5,143.0 L508.5,142.5 L507.5,141.9 L506.5,141.3 L505.5,140.6 L504.5,139.8 L503.5,139.0 L502.5,138.1 L501.5,137.2 L500.5,136.2 L499.5,135.2 L498.5,134.1 L497.5,133.0 L496.5,131.8 L495.5,130.6 L494.5,129.4 L493.5,128.2 L492.5,127.0 L491.5,125.8 L490.5,124.7 L489.5,123.5 L488.5,122.4 L487.5,121.4 L486.5,120.4 L485.5,119.4 L484.5,118.5 L483.5,117.7 L482.5,117.0 L481.5,116.4 L480.5,115.8 L479.5,115.3 L478.5,115.0 L477.5,114.7 L476.5,114.5 L475.5,114.3 L474.5,114.3 L473.5,114.2 L472.5,114.3 L471.5,114.3 L470.5,114.4 L469.5,114.5 L468.5,114.6 L467.5,114.8 L466.5,114.9 L465.5,115.0 L464.5,115.1 L463.5,115.2 L462.5,115.2 L461.5,115.3 L460.5,115.3 L459.5,115.2 L458.5,115.1 L457.5,115.0 L456.5,114.9 L455.5,114.7 L454.5,114.4 L453.5,114.1 L452.5,113.7 L451.5,113.3 L450.5,112.8 L449.5,112.3 L448.5,111.7 L447.5,111.1 L446.5,110.4 L445.5,109.7 L444.5,108.9 L443.5,108.1 L442.5,107.2 L441.5,106.3 L440.5,105.4 L439.5,104.5 L438.5,103.5 L437.5,102.5 L436.5,101.4 L435.5,100.4 L434.5,99.3 L433.5,98.3 L432.5,97.2 L431.5,96.1 L430.5,95.0 L429.5,94.0 L428.5,92.9 L427.5,91.9 L426.5,90.9 L425.5,89.9 L424.5,88.9 L423.5,88.0 L422.5,87.1 L421.5,86.3 L420.5,85.4 L419.5,84.7 L418.5,84.0 L417.5,83.3 L416.5,82.8 L415.5,82.2 L414.5,81.8 L413.5,81.4 L412.5,81.2 L411.5,81.0 L410.5,80.9" fill="none" stroke="#008000" stroke-width="1.15" stroke-dasharray="2.85 1.25"/>
<path d="M335.5,146.3 L410.5,146.3" fill="none" stroke="#008000" stroke-width="1.15" stroke-dasharray="2.85 1.25"/>
<path d="M537.5,146.3 L410.5,146.3" fill="none" stroke="#008000" stroke-width="1.15" stroke-dasharray="2.85 1.25"/>
<path d="M362.0,146.3 L363.0,146.3 L364.0,146.3 L365.0,146.3 L366.0,146.2 L367.0,146.1 L368.0,146.0 L369.0,145.9 L370.0,145.8 L371.0,145.7 L372.0,145.6 L373.0,145.4 L374.0,145.3 L375.0,145.1 L376.0,145.0 L377.0,144.8 L378.0,144.7 L379.0,144.5 L380.0,144.4 L381.0,144.2 L382.0,144.1 L383.0,144.0 L384.0,143.9 L385.0,143.8 L386.0,143.7 L387.0,143.6 L388.0,143.5 L389.0,143.5 L390.0,143.5 L391.0,143.5 L392.0,143.5 L393.0,143.5 L394.0,143.6 L395.0,143.6 L396.0,143.6 L397.0,143.5 L398.0,143.5 L399.0,143.4 L400.0,143.3 L401.0,143.1 L402.0,142.9 L403.0,142.6 L404.0,142.3 L405.0,141.9 L406.0,141.4 L407.0,140.8 L408.0,140.1 L409.0,139.4 L410.0,138.5 L411.0,137.6 L412.0,136.7 L413.0,135.7 L414.0,134.7 L415.0,133.8 L416.0,132.9 L417.0,132.0 L418.0,131.2 L419.0,130.5 L420.0,130.0 L421.0,129.6 L422.0,129.3 L423.0,129.1 L424.0,128.9 L425.0,128.9 L426.0,128.8 L427.0,128.8 L428.0,128.8 L429.0,128.7 L430.0,128.5 L431.0,128.3 L432.0,128.0 L433.0,127.6 L434.0,127.0 L435.0,126.3 L436.0,125.4 L437.0,124.3 L438.0,123.1 L439.0,121.7 L440.0,120.1 L441.0,118.3 L442.0,116.3 L443.0,114.2 L444.0,111.8 L445.0,109.3 L446.0,106.5 L447.0,103.5 L448.0,100.3 L449.0,96.8 L450.0,93.1 L451.0,89.2 L452.0,85.1 L453.0,80.8 L454.0,76.3 L455.0,71.7 L456.0,66.9 L457.0,62.1 L458.0,57.2 L459.0,52.2 L460.0,47.2 L461.0,42.3 L462.0,37.4 L463.0,32.8 L464.0,28.3 L465.0,24.2 L466.0,20.5 L467.0,17.2 L468.0,14.4 L469.0,12.2 L470.0,10.7 L471.0,9.9 L472.0,9.9 L473.0,10.7 L474.0,12.4 L475.0,14.8 L476.0,18.0 L477.0,21.8 L478.0,26.3 L479.0,31.4 L480.0,37.0 L481.0,43.1 L482.0,49.7 L483.0,56.7 L484.0,63.9 L485.0,71.4 L486.0,78.9 L487.0,86.3 L488.0,93.6 L489.0,100.7 L490.0,107.4 L491.0,113.6 L492.0,119.3 L493.0,124.3 L494.0,128.6 L495.0,132.3 L496.0,135.4 L497.0,137.9 L498.0,140.0 L499.0,141.6 L500.0,142.9 L501.0,143.8 L502.0,144.4 L503.0,144.7 L504.0,144.9 L505.0,144.9 L506.0,144.8 L507.0,144.7 L508.0,144.5 L509.0,144.4 L510.0,144.4 L511.0,144.6 L512.0,144.9 L513.0,145.4 L514.0,146.3 Z" fill="#ff0000" fill-opacity="0.25" stroke="none"/>
<path d="M362.0,146.3 L363.0,146.3 L364.0,146.3 L365.0,146.3 L366.0,146.2 L367.0,146.1 L368.0,146.0 L369.0,145.9 L370.0,145.8 L371.0,145.7 L372.0,145.6 L373.0,145.4 L374.0,145.3 L375.0,145.1 L376.0,145.0 L377.0,144.8 L378.0,144.7 L379.0,144.5 L380.0,144.4 L381.0,144.2 L382.0,144.1 L383.0,144.0 L384.0,143.9 L385.0,143.8 L386.0,143.7 L387.0,143.6 L388.0,143.5 L389.0,143.5 L390.0,143.5 L391.0,143.5 L392.0,143.5 L393.0,143.5 L394.0,143.6 L395.0,143.6 L396.0,143.6 L397.0,143.5 L398.0,143.5 L399.0,143.4 L400.0,143.3 L401.0,143.1 L402.0,142.9 L403.0,142.6 L404.0,142.3 L405.0,141.9 L406.0,141.4 L407.0,140.8 L408.0,140.1 L409.0,139.4 L410.0,138.5 L411.0,137.6 L412.0,136.7 L413.0,135.7 L414.0,134.7 L415.0,133.8 L416.0,132.9 L417.0,132.0 L418.0,131.2 L419.0,130.5 L420.0,130.0 L421.0,129.6 L422.0,129.3 L423.0,129.1 L424.0,128.9 L425.0,128.9 L426.0,128.8 L427.0,128.8 L428.0,128.8 L429.0,128.7 L430.0,128.5 L431.0,128.3 L432.0,128.0 L433.0,127.6 L434.0,127.0 L435.0,126.3 L436.0,125.4 L437.0,124.3 L438.0,123.1 L439.0,121.7 L440.0,120.1 L441.0,118.3 L442.0,116.3 L443.0,114.2 L444.0,111.8 L445.0,109.3 L446.0,106.5 L447.0,103.5 L448.0,100.3 L449.0,96.8 L450.0,93.1 L451.0,89.2 L452.0,85.1 L453.0,80.8 L454.0,76.3 L455.0,71.7 L456.0,66.9 L457.0,62.1 L458.0,57.2 L459.0,52.2 L460.0,47.2 L461.0,42.3 L462.0,37.4 L463.0,32.8 L464.0,28.3 L465.0,24.2 L466.0,20.5 L467.0,17.2 L468.0,14.4 L469.0,12.2 L470.0,10.7 L471.0,9.9 L472.0,9.9" fill="none" stroke="#ff0000" stroke-width="1.15" stroke-dasharray="2.85 1.25"/>
<path d="M514.0,146.3 L513.0,145.4 L512.0,144.9 L511.0,144.6 L510.0,144.4 L509.0,144.4 L508.0,144.5 L507.0,144.7 L506.0,144.8 L505.0,144.9 L504.0,144.9 L503.0,144.7 L502.0,144.4 L501.0,143.8 L500.0,142.9 L499.0,141.6 L498.0,140.0 L497.0,137.9 L496.0,135.4 L495.0,132.3 L494.0,128.6 L493.0,124.3 L492.0,119.3 L491.0,113.6 L490.0,107.4 L489.0,100.7 L488.0,93.6 L487.0,86.3 L486.0,78.9 L485.0,71.4 L484.0,63.9 L483.0,56.7 L482.0,49.7 L481.0,43.1 L480.0,37.0 L479.0,31.4 L478.0,26.3 L477.0,21.8 L476.0,18.0 L475.0,14.8 L474.0,12.4 L473.0,10.7 L472.0,9.9" fill="none" stroke="#ff0000" stroke-width="1.15" stroke-dasharray="2.85 1.25"/>
<path d="M362.0,146.3 L472.0,146.3" fill="none" stroke="#ff0000" stroke-width="1.15" stroke-dasharray="2.85 1.25"/>
<path d="M514.0,146.3 L472.0,146.3" fill="none" stroke="#ff0000" stroke-width="1.15" stroke-dasharray="2.85 1.25"/>
</g>
<rect x="326.0" y="3.5" width="222.0" height="142.8" fill="none" stroke="#333" stroke-width="0.6"/>
<path d="M327.3,146.3 v1.9" stroke="#222" stroke-width="0.5"/>
<text x="327.3" y="155.4" text-anchor="middle" font-size="7.5"><tspan font-size="6.6">−</tspan>8</text>
<path d="M366.6,146.3 v1.9" stroke="#222" stroke-width="0.5"/>
<text x="366.6" y="155.4" text-anchor="middle" font-size="7.5"><tspan font-size="6.6">−</tspan>7</text>
<path d="M405.8,146.3 v1.9" stroke="#222" stroke-width="0.5"/>
<text x="405.8" y="155.4" text-anchor="middle" font-size="7.5"><tspan font-size="6.6">−</tspan>6</text>
<path d="M445.1,146.3 v1.9" stroke="#222" stroke-width="0.5"/>
<text x="445.1" y="155.4" text-anchor="middle" font-size="7.5"><tspan font-size="6.6">−</tspan>5</text>
<path d="M484.3,146.3 v1.9" stroke="#222" stroke-width="0.5"/>
<text x="484.3" y="155.4" text-anchor="middle" font-size="7.5"><tspan font-size="6.6">−</tspan>4</text>
<path d="M523.5,146.3 v1.9" stroke="#222" stroke-width="0.5"/>
<text x="523.5" y="155.4" text-anchor="middle" font-size="7.5"><tspan font-size="6.6">−</tspan>3</text>
<path d="M326.0,146.3 h-1.9" stroke="#222" stroke-width="0.5"/>
<text x="322.4" y="149.3" text-anchor="end" font-size="7.5">0.0</text>
<path d="M326.0,120.5 h-1.9" stroke="#222" stroke-width="0.5"/>
<text x="322.4" y="123.5" text-anchor="end" font-size="7.5">0.2</text>
<path d="M326.0,94.6 h-1.9" stroke="#222" stroke-width="0.5"/>
<text x="322.4" y="97.6" text-anchor="end" font-size="7.5">0.4</text>
<path d="M326.0,68.8 h-1.9" stroke="#222" stroke-width="0.5"/>
<text x="322.4" y="71.8" text-anchor="end" font-size="7.5">0.6</text>
<path d="M326.0,42.9 h-1.9" stroke="#222" stroke-width="0.5"/>
<text x="322.4" y="45.9" text-anchor="end" font-size="7.5">0.8</text>
<path d="M326.0,17.1 h-1.9" stroke="#222" stroke-width="0.5"/>
<text x="322.4" y="20.1" text-anchor="end" font-size="7.5">1.0</text>
<text x="437.0" y="164.5" text-anchor="middle" font-size="7.5">Energy Score</text>
<text transform="translate(307.3,75.9) rotate(-90)" text-anchor="middle" font-size="7.5">Frequency</text>
<rect x="329.1" y="7.1" width="115.3" height="34.4" rx="1.2" fill="#fff" fill-opacity="0.8" stroke="#ccc" stroke-opacity="0.8" stroke-width="0.45"/>
<rect x="332.65" y="10.55" width="14.5" height="4.7" fill="#0000ff" fill-opacity="0.25" stroke="#0000ff" stroke-width="1.5" stroke-opacity="0.72" stroke-dasharray="4.3 1.3"/>
<text x="353.7" y="15.55" font-size="7.45">wearing mask</text>
<rect x="332.65" y="21.45" width="14.5" height="4.7" fill="#008000" fill-opacity="0.25" stroke="#008000" stroke-width="1.5" stroke-opacity="0.72" stroke-dasharray="4.3 1.3"/>
<text x="353.7" y="26.45" font-size="7.45">incorrect mask-wearing</text>
<rect x="332.65" y="32.35" width="14.5" height="4.7" fill="#ff0000" fill-opacity="0.25" stroke="#ff0000" stroke-width="1.5" stroke-opacity="0.72" stroke-dasharray="4.3 1.3"/>
<text x="353.7" y="37.35" font-size="7.45">without mask</text>
<text x="413.4" y="182.5" font-family="'Liberation Serif', 'DejaVu Serif', serif" font-size="11.9" font-weight="bold" fill="#1c1c1c" stroke-width="0.1" textLength="16.7" lengthAdjust="spacingAndGlyphs">(b)</text>
<text x="433.0" y="182.5" font-family="'Liberation Serif', 'DejaVu Serif', serif" font-size="11.2" fill="#1c1c1c" stroke-width="0.1" textLength="28.4" lengthAdjust="spacingAndGlyphs">T = 10</text>
</g>
<g>
<clipPath id="clc"><rect x="26.7" y="203.6" width="223.0" height="144.3"/></clipPath>
<g clip-path="url(#clc)">
<path d="M66.0,347.2 L67.0,347.0 L68.0,346.7 L69.0,346.5 L70.0,346.3 L71.0,346.1 L72.0,346.0 L73.0,345.8 L74.0,345.7 L75.0,345.6 L76.0,345.4 L77.0,345.3 L78.0,345.2 L79.0,345.1 L80.0,344.9 L81.0,344.8 L82.0,344.6 L83.0,344.4 L84.0,344.2 L85.0,344.0 L86.0,343.7 L87.0,343.5 L88.0,343.1 L89.0,342.8 L90.0,342.4 L91.0,342.0 L92.0,341.5 L93.0,341.0 L94.0,340.4 L95.0,339.8 L96.0,339.1 L97.0,338.3 L98.0,337.5 L99.0,336.7 L100.0,335.7 L101.0,334.7 L102.0,333.6 L103.0,332.4 L104.0,331.2 L105.0,329.9 L106.0,328.6 L107.0,327.2 L108.0,325.8 L109.0,324.4 L110.0,322.9 L111.0,321.4 L112.0,319.9 L113.0,318.5 L114.0,317.2 L115.0,316.1 L116.0,315.2 L117.0,314.4 L118.0,313.6 L119.0,312.6 L120.0,311.7 L121.0,311.0 L122.0,310.3 L123.0,309.5 L124.0,308.5 L125.0,307.4 L126.0,306.3 L127.0,305.0 L128.0,303.7 L129.0,302.3 L130.0,300.8 L131.0,299.3 L132.0,297.7 L133.0,296.2 L134.0,294.6 L135.0,293.0 L136.0,291.4 L137.0,289.9 L138.0,288.4 L139.0,286.8 L140.0,285.3 L141.0,283.8 L142.0,282.3 L143.0,280.8 L144.0,279.4 L145.0,277.9 L146.0,276.4 L147.0,274.8 L148.0,273.3 L149.0,271.9 L150.0,270.5 L151.0,269.1 L152.0,267.9 L153.0,266.8 L154.0,265.8 L155.0,265.0 L156.0,264.4 L157.0,263.9 L158.0,263.6 L159.0,263.5 L160.0,263.6 L161.0,263.9 L162.0,264.4 L163.0,265.0 L164.0,265.9 L165.0,267.0 L166.0,268.3 L167.0,269.7 L168.0,271.2 L169.0,272.9 L170.0,274.6 L171.0,276.4 L172.0,278.3 L173.0,280.1 L174.0,282.0 L175.0,283.9 L176.0,285.7 L177.0,287.6 L178.0,289.4 L179.0,291.2 L180.0,293.0 L181.0,294.8 L182.0,296.6 L183.0,298.4 L184.0,300.2 L185.0,302.0 L186.0,303.7 L187.0,305.5 L188.0,307.3 L189.0,309.1 L190.0,310.9 L191.0,312.6 L192.0,314.4 L193.0,316.2 L194.0,318.0 L195.0,319.8 L196.0,321.5 L197.0,323.2 L198.0,324.9 L199.0,326.5 L200.0,328.2 L201.0,329.7 L202.0,331.2 L203.0,332.7 L204.0,334.1 L205.0,335.4 L206.0,336.7 L207.0,337.9 L208.0,339.0 L209.0,340.0 L210.0,341.0 L211.0,341.8 L212.0,342.6 L213.0,343.3 L214.0,343.9 L215.0,344.5 L216.0,345.0 L217.0,345.4 L218.0,345.8 L219.0,346.1 L220.0,346.4 L221.0,346.6 L222.0,346.8 L223.0,346.9 L224.0,347.0 L225.0,347.1 L226.0,347.2 L227.0,347.2 L228.0,347.2 L229.0,347.2 L230.0,347.2 L231.0,347.2 L232.0,347.1 L233.0,347.1 L234.0,347.1 L235.0,347.1 L236.0,347.1 L237.0,347.1 L238.0,347.1 L239.0,347.1 L240.0,347.2 Z" fill="#0000ff" fill-opacity="0.25" stroke="none"/>
<path d="M66.0,347.2 L67.0,347.0 L68.0,346.7 L69.0,346.5 L70.0,346.3 L71.0,346.1 L72.0,346.0 L73.0,345.8 L74.0,345.7 L75.0,345.6 L76.0,345.4 L77.0,345.3 L78.0,345.2 L79.0,345.1 L80.0,344.9 L81.0,344.8 L82.0,344.6 L83.0,344.4 L84.0,344.2 L85.0,344.0 L86.0,343.7 L87.0,343.5 L88.0,343.1 L89.0,342.8 L90.0,342.4 L91.0,342.0 L92.0,341.5 L93.0,341.0 L94.0,340.4 L95.0,339.8 L96.0,339.1 L97.0,338.3 L98.0,337.5 L99.0,336.7 L100.0,335.7 L101.0,334.7 L102.0,333.6 L103.0,332.4 L104.0,331.2 L105.0,329.9 L106.0,328.6 L107.0,327.2 L108.0,325.8 L109.0,324.4 L110.0,322.9 L111.0,321.4 L112.0,319.9 L113.0,318.5 L114.0,317.2 L115.0,316.1 L116.0,315.2 L117.0,314.4 L118.0,313.6 L119.0,312.6 L120.0,311.7 L121.0,311.0 L122.0,310.3 L123.0,309.5 L124.0,308.5 L125.0,307.4 L126.0,306.3 L127.0,305.0 L128.0,303.7 L129.0,302.3 L130.0,300.8 L131.0,299.3 L132.0,297.7 L133.0,296.2 L134.0,294.6 L135.0,293.0 L136.0,291.4 L137.0,289.9 L138.0,288.4 L139.0,286.8 L140.0,285.3 L141.0,283.8 L142.0,282.3 L143.0,280.8 L144.0,279.4 L145.0,277.9 L146.0,276.4 L147.0,274.8 L148.0,273.3 L149.0,271.9 L150.0,270.5 L151.0,269.1 L152.0,267.9 L153.0,266.8 L154.0,265.8 L155.0,265.0 L156.0,264.4 L157.0,263.9 L158.0,263.6 L159.0,263.5" fill="none" stroke="#0000ff" stroke-width="1.15" stroke-dasharray="2.85 1.25"/>
<path d="M240.0,347.2 L239.0,347.1 L238.0,347.1 L237.0,347.1 L236.0,347.1 L235.0,347.1 L234.0,347.1 L233.0,347.1 L232.0,347.1 L231.0,347.2 L230.0,347.2 L229.0,347.2 L228.0,347.2 L227.0,347.2 L226.0,347.2 L225.0,347.1 L224.0,347.0 L223.0,346.9 L222.0,346.8 L221.0,346.6 L220.0,346.4 L219.0,346.1 L218.0,345.8 L217.0,345.4 L216.0,345.0 L215.0,344.5 L214.0,343.9 L213.0,343.3 L212.0,342.6 L211.0,341.8 L210.0,341.0 L209.0,340.0 L208.0,339.0 L207.0,337.9 L206.0,336.7 L205.0,335.4 L204.0,334.1 L203.0,332.7 L202.0,331.2 L201.0,329.7 L200.0,328.2 L199.0,326.5 L198.0,324.9 L197.0,323.2 L196.0,321.5 L195.0,319.8 L194.0,318.0 L193.0,316.2 L192.0,314.4 L191.0,312.6 L190.0,310.9 L189.0,309.1 L188.0,307.3 L187.0,305.5 L186.0,303.7 L185.0,302.0 L184.0,300.2 L183.0,298.4 L182.0,296.6 L181.0,294.8 L180.0,293.0 L179.0,291.2 L178.0,289.4 L177.0,287.6 L176.0,285.7 L175.0,283.9 L174.0,282.0 L173.0,280.1 L172.0,278.3 L171.0,276.4 L170.0,274.6 L169.0,272.9 L168.0,271.2 L167.0,269.7 L166.0,268.3 L165.0,267.0 L164.0,265.9 L163.0,265.0 L162.0,264.4 L161.0,263.9 L160.0,263.6 L159.0,263.5" fill="none" stroke="#0000ff" stroke-width="1.15" stroke-dasharray="2.85 1.25"/>
<path d="M66.0,347.2 L159.0,347.2" fill="none" stroke="#0000ff" stroke-width="1.15" stroke-dasharray="2.85 1.25"/>
<path d="M240.0,347.2 L159.0,347.2" fill="none" stroke="#0000ff" stroke-width="1.15" stroke-dasharray="2.85 1.25"/>
<path d="M36.5,347.2 L37.5,347.1 L38.5,347.0 L39.5,346.9 L40.5,346.9 L41.5,346.9 L42.5,346.9 L43.5,346.9 L44.5,346.9 L45.5,346.9 L46.5,346.9 L47.5,346.9 L48.5,346.9 L49.5,346.9 L50.5,346.8 L51.5,346.7 L52.5,346.6 L53.5,346.4 L54.5,346.2 L55.5,346.0 L56.5,345.6 L57.5,345.3 L58.5,344.8 L59.5,344.3 L60.5,343.7 L61.5,343.1 L62.5,342.3 L63.5,341.5 L64.5,340.6 L65.5,339.5 L66.5,338.4 L67.5,337.2 L68.5,335.8 L69.5,334.3 L70.5,332.7 L71.5,331.0 L72.5,329.1 L73.5,327.1 L74.5,325.0 L75.5,322.7 L76.5,320.3 L77.5,317.9 L78.5,315.3 L79.5,312.8 L80.5,310.2 L81.5,307.7 L82.5,305.1 L83.5,302.6 L84.5,300.2 L85.5,297.8 L86.5,295.5 L87.5,293.1 L88.5,290.6 L89.5,288.0 L90.5,285.5 L91.5,283.2 L92.5,281.0 L93.5,279.0 L94.5,277.1 L95.5,275.3 L96.5,273.8 L97.5,272.3 L98.5,271.0 L99.5,269.9 L100.5,268.9 L101.5,268.1 L102.5,267.4 L103.5,266.9 L104.5,266.5 L105.5,266.3 L106.5,266.3 L107.5,266.4 L108.5,266.7 L109.5,267.1 L110.5,267.7 L111.5,268.4 L112.5,269.3 L113.5,270.3 L114.5,271.4 L115.5,272.7 L116.5,274.0 L117.5,275.5 L118.5,277.1 L119.5,278.7 L120.5,280.4 L121.5,282.1 L122.5,283.9 L123.5,285.7 L124.5,287.6 L125.5,289.5 L126.5,291.3 L127.5,293.2 L128.5,295.1 L129.5,296.9 L130.5,298.8 L131.5,300.5 L132.5,302.3 L133.5,303.9 L134.5,305.5 L135.5,307.0 L136.5,308.4 L137.5,309.7 L138.5,310.8 L139.5,311.8 L140.5,312.8 L141.5,313.6 L142.5,314.3 L143.5,314.9 L144.5,315.4 L145.5,315.9 L146.5,316.3 L147.5,316.7 L148.5,317.0 L149.5,317.2 L150.5,317.4 L151.5,317.6 L152.5,317.8 L153.5,318.0 L154.5,318.2 L155.5,318.4 L156.5,318.6 L157.5,318.8 L158.5,318.9 L159.5,319.1 L160.5,319.3 L161.5,319.5 L162.5,319.7 L163.5,319.9 L164.5,320.2 L165.5,320.4 L166.5,320.7 L167.5,320.9 L168.5,321.2 L169.5,321.5 L170.5,321.8 L171.5,322.2 L172.5,322.6 L173.5,323.0 L174.5,323.4 L175.5,323.8 L176.5,324.3 L177.5,324.8 L178.5,325.4 L179.5,326.0 L180.5,326.6 L181.5,327.2 L182.5,327.9 L183.5,328.6 L184.5,329.3 L185.5,330.0 L186.5,330.8 L187.5,331.5 L188.5,332.3 L189.5,333.0 L190.5,333.8 L191.5,334.6 L192.5,335.3 L193.5,336.1 L194.5,336.8 L195.5,337.6 L196.5,338.3 L197.5,339.0 L198.5,339.6 L199.5,340.3 L200.5,340.9 L201.5,341.5 L202.5,342.0 L203.5,342.5 L204.5,343.0 L205.5,343.5 L206.5,343.9 L207.5,344.3 L208.5,344.7 L209.5,345.1 L210.5,345.4 L211.5,345.7 L212.5,346.0 L213.5,346.2 L214.5,346.4 L215.5,346.6 L216.5,346.8 L217.5,347.0 L218.5,347.1 L219.5,347.2 L220.5,347.2 L221.5,347.2 L222.5,347.2 L223.5,347.2 L224.5,347.2 L225.5,347.2 L226.5,347.2 L227.5,347.2 L228.5,347.2 L229.5,347.2 L230.5,347.2 L231.5,347.2 Z" fill="#008000" fill-opacity="0.25" stroke="none"/>
<path d="M36.5,347.2 L37.5,347.1 L38.5,347.0 L39.5,346.9 L40.5,346.9 L41.5,346.9 L42.5,346.9 L43.5,346.9 L44.5,346.9 L45.5,346.9 L46.5,346.9 L47.5,346.9 L48.5,346.9 L49.5,346.9 L50.5,346.8 L51.5,346.7 L52.5,346.6 L53.5,346.4 L54.5,346.2 L55.5,346.0 L56.5,345.6 L57.5,345.3 L58.5,344.8 L59.5,344.3 L60.5,343.7 L61.5,343.1 L62.5,342.3 L63.5,341.5 L64.5,340.6 L65.5,339.5 L66.5,338.4 L67.5,337.2 L68.5,335.8 L69.5,334.3 L70.5,332.7 L71.5,331.0 L72.5,329.1 L73.5,327.1 L74.5,325.0 L75.5,322.7 L76.5,320.3 L77.5,317.9 L78.5,315.3 L79.5,312.8 L80.5,310.2 L81.5,307.7 L82.5,305.1 L83.5,302.6 L84.5,300.2 L85.5,297.8 L86.5,295.5 L87.5,293.1 L88.5,290.6 L89.5,288.0 L90.5,285.5 L91.5,283.2 L92.5,281.0 L93.5,279.0 L94.5,277.1 L95.5,275.3 L96.5,273.8 L97.5,272.3 L98.5,271.0 L99.5,269.9 L100.5,268.9 L101.5,268.1 L102.5,267.4 L103.5,266.9 L104.5,266.5 L105.5,266.3 L106.5,266.3" fill="none" stroke="#008000" stroke-width="1.15" stroke-dasharray="2.85 1.25"/>
<path d="M231.5,347.2 L230.5,347.2 L229.5,347.2 L228.5,347.2 L227.5,347.2 L226.5,347.2 L225.5,347.2 L224.5,347.2 L223.5,347.2 L222.5,347.2 L221.5,347.2 L220.5,347.2 L219.5,347.2 L218.5,347.1 L217.5,347.0 L216.5,346.8 L215.5,346.6 L214.5,346.4 L213.5,346.2 L212.5,346.0 L211.5,345.7 L210.5,345.4 L209.5,345.1 L208.5,344.7 L207.5,344.3 L206.5,343.9 L205.5,343.5 L204.5,343.0 L203.5,342.5 L202.5,342.0 L201.5,341.5 L200.5,340.9 L199.5,340.3 L198.5,339.6 L197.5,339.0 L196.5,338.3 L195.5,337.6 L194.5,336.8 L193.5,336.1 L192.5,335.3 L191.5,334.6 L190.5,333.8 L189.5,333.0 L188.5,332.3 L187.5,331.5 L186.5,330.8 L185.5,330.0 L184.5,329.3 L183.5,328.6 L182.5,327.9 L181.5,327.2 L180.5,326.6 L179.5,326.0 L178.5,325.4 L177.5,324.8 L176.5,324.3 L175.5,323.8 L174.5,323.4 L173.5,323.0 L172.5,322.6 L171.5,322.2 L170.5,321.8 L169.5,321.5 L168.5,321.2 L167.5,320.9 L166.5,320.7 L165.5,320.4 L164.5,320.2 L163.5,319.9 L162.5,319.7 L161.5,319.5 L160.5,319.3 L159.5,319.1 L158.5,318.9 L157.5,318.8 L156.5,318.6 L155.5,318.4 L154.5,318.2 L153.5,318.0 L152.5,317.8 L151.5,317.6 L150.5,317.4 L149.5,317.2 L148.5,317.0 L147.5,316.7 L146.5,316.3 L145.5,315.9 L144.5,315.4 L143.5,314.9 L142.5,314.3 L141.5,313.6 L140.5,312.8 L139.5,311.8 L138.5,310.8 L137.5,309.7 L136.5,308.4 L135.5,307.0 L134.5,305.5 L133.5,303.9 L132.5,302.3 L131.5,300.5 L130.5,298.8 L129.5,296.9 L128.5,295.1 L127.5,293.2 L126.5,291.3 L125.5,289.5 L124.5,287.6 L123.5,285.7 L122.5,283.9 L121.5,282.1 L120.5,280.4 L119.5,278.7 L118.5,277.1 L117.5,275.5 L116.5,274.0 L115.5,272.7 L114.5,271.4 L113.5,270.3 L112.5,269.3 L111.5,268.4 L110.5,267.7 L109.5,267.1 L108.5,266.7 L107.5,266.4 L106.5,266.3" fill="none" stroke="#008000" stroke-width="1.15" stroke-dasharray="2.85 1.25"/>
<path d="M36.5,347.2 L106.5,347.2" fill="none" stroke="#008000" stroke-width="1.15" stroke-dasharray="2.85 1.25"/>
<path d="M231.5,347.2 L106.5,347.2" fill="none" stroke="#008000" stroke-width="1.15" stroke-dasharray="2.85 1.25"/>
<path d="M63.5,347.2 L64.5,347.0 L65.5,346.8 L66.5,346.7 L67.5,346.5 L68.5,346.4 L69.5,346.3 L70.5,346.2 L71.5,346.2 L72.5,346.1 L73.5,346.1 L74.5,346.0 L75.5,346.0 L76.5,345.9 L77.5,345.9 L78.5,345.9 L79.5,345.8 L80.5,345.7 L81.5,345.7 L82.5,345.6 L83.5,345.5 L84.5,345.4 L85.5,345.3 L86.5,345.1 L87.5,344.9 L88.5,344.7 L89.5,344.5 L90.5,344.3 L91.5,344.0 L92.5,343.6 L93.5,343.3 L94.5,342.9 L95.5,342.4 L96.5,341.9 L97.5,341.4 L98.5,340.8 L99.5,340.2 L100.5,339.5 L101.5,338.7 L102.5,337.9 L103.5,337.0 L104.5,336.1 L105.5,335.1 L106.5,334.1 L107.5,333.0 L108.5,332.0 L109.5,330.9 L110.5,329.9 L111.5,329.0 L112.5,328.1 L113.5,327.4 L114.5,326.8 L115.5,326.3 L116.5,326.0 L117.5,325.8 L118.5,325.7 L119.5,325.5 L120.5,325.3 L121.5,324.9 L122.5,324.2 L123.5,323.3 L124.5,322.2 L125.5,320.7 L126.5,319.1 L127.5,317.2 L128.5,315.0 L129.5,312.6 L130.5,309.9 L131.5,307.0 L132.5,303.8 L133.5,300.4 L134.5,296.7 L135.5,292.8 L136.5,288.6 L137.5,284.2 L138.5,279.5 L139.5,274.6 L140.5,269.4 L141.5,264.1 L142.5,258.6 L143.5,253.1 L144.5,247.6 L145.5,242.1 L146.5,236.8 L147.5,231.7 L148.5,226.8 L149.5,222.3 L150.5,218.3 L151.5,215.0 L152.5,212.6 L153.5,211.1 L154.5,210.8 L155.5,211.6 L156.5,213.4 L157.5,216.3 L158.5,219.9 L159.5,224.2 L160.5,229.1 L161.5,234.4 L162.5,239.9 L163.5,245.5 L164.5,251.1 L165.5,256.6 L166.5,261.8 L167.5,266.8 L168.5,271.6 L169.5,276.1 L170.5,280.2 L171.5,284.0 L172.5,287.5 L173.5,290.7 L174.5,293.6 L175.5,296.3 L176.5,298.9 L177.5,301.3 L178.5,303.6 L179.5,305.8 L180.5,308.0 L181.5,310.2 L182.5,312.4 L183.5,314.6 L184.5,316.8 L185.5,319.0 L186.5,321.2 L187.5,323.5 L188.5,325.7 L189.5,327.9 L190.5,330.1 L191.5,332.2 L192.5,334.3 L193.5,336.3 L194.5,338.2 L195.5,339.9 L196.5,341.4 L197.5,342.8 L198.5,343.9 L199.5,344.8 L200.5,345.5 L201.5,346.0 L202.5,346.4 L203.5,346.6 L204.5,346.8 L205.5,346.8 L206.5,346.7 L207.5,346.6 L208.5,346.5 L209.5,346.3 L210.5,346.2 L211.5,346.1 L212.5,346.0 L213.5,346.0 L214.5,346.0 L215.5,346.2 L216.5,346.5 L217.5,347.2 Z" fill="#ff0000" fill-opacity="0.25" stroke="none"/>
<path d="M63.5,347.2 L64.5,347.0 L65.5,346.8 L66.5,346.7 L67.5,346.5 L68.5,346.4 L69.5,346.3 L70.5,346.2 L71.5,346.2 L72.5,346.1 L73.5,346.1 L74.5,346.0 L75.5,346.0 L76.5,345.9 L77.5,345.9 L78.5,345.9 L79.5,345.8 L80.5,345.7 L81.5,345.7 L82.5,345.6 L83.5,345.5 L84.5,345.4 L85.5,345.3 L86.5,345.1 L87.5,344.9 L88.5,344.7 L89.5,344.5 L90.5,344.3 L91.5,344.0 L92.5,343.6 L93.5,343.3 L94.5,342.9 L95.5,342.4 L96.5,341.9 L97.5,341.4 L98.5,340.8 L99.5,340.2 L100.5,339.5 L101.5,338.7 L102.5,337.9 L103.5,337.0 L104.5,336.1 L105.5,335.1 L106.5,334.1 L107.5,333.0 L108.5,332.0 L109.5,330.9 L110.5,329.9 L111.5,329.0 L112.5,328.1 L113.5,327.4 L114.5,326.8 L115.5,326.3 L116.5,326.0 L117.5,325.8 L118.5,325.7 L119.5,325.5 L120.5,325.3 L121.5,324.9 L122.5,324.2 L123.5,323.3 L124.5,322.2 L125.5,320.7 L126.5,319.1 L127.5,317.2 L128.5,315.0 L129.5,312.6 L130.5,309.9 L131.5,307.0 L132.5,303.8 L133.5,300.4 L134.5,296.7 L135.5,292.8 L136.5,288.6 L137.5,284.2 L138.5,279.5 L139.5,274.6 L140.5,269.4 L141.5,264.1 L142.5,258.6 L143.5,253.1 L144.5,247.6 L145.5,242.1 L146.5,236.8 L147.5,231.7 L148.5,226.8 L149.5,222.3 L150.5,218.3 L151.5,215.0 L152.5,212.6 L153.5,211.1 L154.5,210.8" fill="none" stroke="#ff0000" stroke-width="1.15" stroke-dasharray="2.85 1.25"/>
<path d="M217.5,347.2 L216.5,346.5 L215.5,346.2 L214.5,346.0 L213.5,346.0 L212.5,346.0 L211.5,346.1 L210.5,346.2 L209.5,346.3 L208.5,346.5 L207.5,346.6 L206.5,346.7 L205.5,346.8 L204.5,346.8 L203.5,346.6 L202.5,346.4 L201.5,346.0 L200.5,345.5 L199.5,344.8 L198.5,343.9 L197.5,342.8 L196.5,341.4 L195.5,339.9 L194.5,338.2 L193.5,336.3 L192.5,334.3 L191.5,332.2 L190.5,330.1 L189.5,327.9 L188.5,325.7 L187.5,323.5 L186.5,321.2 L185.5,319.0 L184.5,316.8 L183.5,314.6 L182.5,312.4 L181.5,310.2 L180.5,308.0 L179.5,305.8 L178.5,303.6 L177.5,301.3 L176.5,298.9 L175.5,296.3 L174.5,293.6 L173.5,290.7 L172.5,287.5 L171.5,284.0 L170.5,280.2 L169.5,276.1 L168.5,271.6 L167.5,266.8 L166.5,261.8 L165.5,256.6 L164.5,251.1 L163.5,245.5 L162.5,239.9 L161.5,234.4 L160.5,229.1 L159.5,224.2 L158.5,219.9 L157.5,216.3 L156.5,213.4 L155.5,211.6 L154.5,210.8" fill="none" stroke="#ff0000" stroke-width="1.15" stroke-dasharray="2.85 1.25"/>
<path d="M63.5,347.2 L154.5,347.2" fill="none" stroke="#ff0000" stroke-width="1.15" stroke-dasharray="2.85 1.25"/>
<path d="M217.5,347.2 L154.5,347.2" fill="none" stroke="#ff0000" stroke-width="1.15" stroke-dasharray="2.85 1.25"/>
</g>
<rect x="26.7" y="203.6" width="223.0" height="143.6" fill="none" stroke="#333" stroke-width="0.6"/>
<path d="M37.5,347.2 v1.9" stroke="#222" stroke-width="0.5"/>
<text x="37.5" y="356.3" text-anchor="middle" font-size="7.5"><tspan font-size="6.6">−</tspan>22</text>
<path d="M63.0,347.2 v1.9" stroke="#222" stroke-width="0.5"/>
<text x="63.0" y="356.3" text-anchor="middle" font-size="7.5"><tspan font-size="6.6">−</tspan>21</text>
<path d="M88.4,347.2 v1.9" stroke="#222" stroke-width="0.5"/>
<text x="88.4" y="356.3" text-anchor="middle" font-size="7.5"><tspan font-size="6.6">−</tspan>20</text>
<path d="M113.9,347.2 v1.9" stroke="#222" stroke-width="0.5"/>
<text x="113.9" y="356.3" text-anchor="middle" font-size="7.5"><tspan font-size="6.6">−</tspan>19</text>
<path d="M139.4,347.2 v1.9" stroke="#222" stroke-width="0.5"/>
<text x="139.4" y="356.3" text-anchor="middle" font-size="7.5"><tspan font-size="6.6">−</tspan>18</text>
<path d="M164.8,347.2 v1.9" stroke="#222" stroke-width="0.5"/>
<text x="164.8" y="356.3" text-anchor="middle" font-size="7.5"><tspan font-size="6.6">−</tspan>17</text>
<path d="M190.3,347.2 v1.9" stroke="#222" stroke-width="0.5"/>
<text x="190.3" y="356.3" text-anchor="middle" font-size="7.5"><tspan font-size="6.6">−</tspan>16</text>
<path d="M215.8,347.2 v1.9" stroke="#222" stroke-width="0.5"/>
<text x="215.8" y="356.3" text-anchor="middle" font-size="7.5"><tspan font-size="6.6">−</tspan>15</text>
<path d="M241.3,347.2 v1.9" stroke="#222" stroke-width="0.5"/>
<text x="241.3" y="356.3" text-anchor="middle" font-size="7.5"><tspan font-size="6.6">−</tspan>14</text>
<path d="M26.7,347.2 h-1.9" stroke="#222" stroke-width="0.5"/>
<text x="23.1" y="350.2" text-anchor="end" font-size="7.5">0.0</text>
<path d="M26.7,325.8 h-1.9" stroke="#222" stroke-width="0.5"/>
<text x="23.1" y="328.8" text-anchor="end" font-size="7.5">0.1</text>
<path d="M26.7,304.5 h-1.9" stroke="#222" stroke-width="0.5"/>
<text x="23.1" y="307.5" text-anchor="end" font-size="7.5">0.2</text>
<path d="M26.7,283.1 h-1.9" stroke="#222" stroke-width="0.5"/>
<text x="23.1" y="286.1" text-anchor="end" font-size="7.5">0.3</text>
<path d="M26.7,261.8 h-1.9" stroke="#222" stroke-width="0.5"/>
<text x="23.1" y="264.8" text-anchor="end" font-size="7.5">0.4</text>
<path d="M26.7,240.4 h-1.9" stroke="#222" stroke-width="0.5"/>
<text x="23.1" y="243.4" text-anchor="end" font-size="7.5">0.5</text>
<path d="M26.7,219.1 h-1.9" stroke="#222" stroke-width="0.5"/>
<text x="23.1" y="222.1" text-anchor="end" font-size="7.5">0.6</text>
<text x="138.2" y="365.6" text-anchor="middle" font-size="7.5">Energy Score</text>
<text transform="translate(8.0,276.4) rotate(-90)" text-anchor="middle" font-size="7.5">Frequency</text>
<rect x="30.0" y="207.3" width="115.3" height="34.4" rx="1.2" fill="#fff" fill-opacity="0.8" stroke="#ccc" stroke-opacity="0.8" stroke-width="0.45"/>
<rect x="33.55" y="210.75" width="14.5" height="4.7" fill="#0000ff" fill-opacity="0.25" stroke="#0000ff" stroke-width="1.5" stroke-opacity="0.72" stroke-dasharray="4.3 1.3"/>
<text x="54.6" y="215.75" font-size="7.45">wearing mask</text>
<rect x="33.55" y="221.65" width="14.5" height="4.7" fill="#008000" fill-opacity="0.25" stroke="#008000" stroke-width="1.5" stroke-opacity="0.72" stroke-dasharray="4.3 1.3"/>
<text x="54.6" y="226.65" font-size="7.45">incorrect mask-wearing</text>
<rect x="33.55" y="232.55" width="14.5" height="4.7" fill="#ff0000" fill-opacity="0.25" stroke="#ff0000" stroke-width="1.5" stroke-opacity="0.72" stroke-dasharray="4.3 1.3"/>
<text x="54.6" y="237.55" font-size="7.45">without mask</text>
<text x="116.2" y="383.2" font-family="'Liberation Serif', 'DejaVu Serif', serif" font-size="11.9" font-weight="bold" fill="#1c1c1c" stroke-width="0.1" textLength="13.8" lengthAdjust="spacingAndGlyphs">(c)</text>
<text x="133.4" y="383.2" font-family="'Liberation Serif', 'DejaVu Serif', serif" font-size="11.2" fill="#1c1c1c" stroke-width="0.1" textLength="28.2" lengthAdjust="spacingAndGlyphs">T = 30</text>
</g>
<g>
<clipPath id="cld"><rect x="326.1" y="204.4" width="221.8" height="143.5"/></clipPath>
<g clip-path="url(#cld)">
<path d="M364.0,347.2 L365.0,347.0 L366.0,346.8 L367.0,346.6 L368.0,346.4 L369.0,346.2 L370.0,346.1 L371.0,346.0 L372.0,345.9 L373.0,345.8 L374.0,345.7 L375.0,345.6 L376.0,345.4 L377.0,345.3 L378.0,345.2 L379.0,345.0 L380.0,344.9 L381.0,344.7 L382.0,344.5 L383.0,344.2 L384.0,343.9 L385.0,343.6 L386.0,343.2 L387.0,342.8 L388.0,342.4 L389.0,341.8 L390.0,341.3 L391.0,340.7 L392.0,340.0 L393.0,339.2 L394.0,338.4 L395.0,337.5 L396.0,336.5 L397.0,335.4 L398.0,334.3 L399.0,333.2 L400.0,331.9 L401.0,330.7 L402.0,329.4 L403.0,328.1 L404.0,326.8 L405.0,325.5 L406.0,324.2 L407.0,323.0 L408.0,321.7 L409.0,320.5 L410.0,319.4 L411.0,318.3 L412.0,317.1 L413.0,316.0 L414.0,315.0 L415.0,313.9 L416.0,312.8 L417.0,311.7 L418.0,310.5 L419.0,309.4 L420.0,308.2 L421.0,307.0 L422.0,305.7 L423.0,304.5 L424.0,303.2 L425.0,301.9 L426.0,300.6 L427.0,299.3 L428.0,297.9 L429.0,296.5 L430.0,295.1 L431.0,293.7 L432.0,292.3 L433.0,290.8 L434.0,289.3 L435.0,287.8 L436.0,286.2 L437.0,284.7 L438.0,283.1 L439.0,281.5 L440.0,279.9 L441.0,278.2 L442.0,276.6 L443.0,275.0 L444.0,273.5 L445.0,272.0 L446.0,270.6 L447.0,269.3 L448.0,268.1 L449.0,267.1 L450.0,266.2 L451.0,265.5 L452.0,265.0 L453.0,264.7 L454.0,264.6 L455.0,264.8 L456.0,265.2 L457.0,265.8 L458.0,266.5 L459.0,267.5 L460.0,268.5 L461.0,269.8 L462.0,271.2 L463.0,272.6 L464.0,274.2 L465.0,275.9 L466.0,277.7 L467.0,279.5 L468.0,281.3 L469.0,283.2 L470.0,285.1 L471.0,287.0 L472.0,288.8 L473.0,290.7 L474.0,292.5 L475.0,294.4 L476.0,296.2 L477.0,298.0 L478.0,299.8 L479.0,301.6 L480.0,303.3 L481.0,305.1 L482.0,306.8 L483.0,308.6 L484.0,310.3 L485.0,312.0 L486.0,313.7 L487.0,315.3 L488.0,317.0 L489.0,318.6 L490.0,320.3 L491.0,321.9 L492.0,323.5 L493.0,325.0 L494.0,326.6 L495.0,328.0 L496.0,329.5 L497.0,330.9 L498.0,332.3 L499.0,333.6 L500.0,334.9 L501.0,336.1 L502.0,337.3 L503.0,338.4 L504.0,339.5 L505.0,340.4 L506.0,341.3 L507.0,342.1 L508.0,342.9 L509.0,343.6 L510.0,344.2 L511.0,344.7 L512.0,345.2 L513.0,345.6 L514.0,346.0 L515.0,346.3 L516.0,346.5 L517.0,346.8 L518.0,346.9 L519.0,347.1 L520.0,347.2 L521.0,347.2 L522.0,347.2 L523.0,347.2 L524.0,347.2 L525.0,347.2 L526.0,347.2 L527.0,347.2 L528.0,347.2 L529.0,347.2 L530.0,347.2 L531.0,347.1 L532.0,347.1 L533.0,347.1 L534.0,347.1 L535.0,347.1 L536.0,347.1 L537.0,347.2 Z" fill="#0000ff" fill-opacity="0.25" stroke="none"/>
<path d="M364.0,347.2 L365.0,347.0 L366.0,346.8 L367.0,346.6 L368.0,346.4 L369.0,346.2 L370.0,346.1 L371.0,346.0 L372.0,345.9 L373.0,345.8 L374.0,345.7 L375.0,345.6 L376.0,345.4 L377.0,345.3 L378.0,345.2 L379.0,345.0 L380.0,344.9 L381.0,344.7 L382.0,344.5 L383.0,344.2 L384.0,343.9 L385.0,343.6 L386.0,343.2 L387.0,342.8 L388.0,342.4 L389.0,341.8 L390.0,341.3 L391.0,340.7 L392.0,340.0 L393.0,339.2 L394.0,338.4 L395.0,337.5 L396.0,336.5 L397.0,335.4 L398.0,334.3 L399.0,333.2 L400.0,331.9 L401.0,330.7 L402.0,329.4 L403.0,328.1 L404.0,326.8 L405.0,325.5 L406.0,324.2 L407.0,323.0 L408.0,321.7 L409.0,320.5 L410.0,319.4 L411.0,318.3 L412.0,317.1 L413.0,316.0 L414.0,315.0 L415.0,313.9 L416.0,312.8 L417.0,311.7 L418.0,310.5 L419.0,309.4 L420.0,308.2 L421.0,307.0 L422.0,305.7 L423.0,304.5 L424.0,303.2 L425.0,301.9 L426.0,300.6 L427.0,299.3 L428.0,297.9 L429.0,296.5 L430.0,295.1 L431.0,293.7 L432.0,292.3 L433.0,290.8 L434.0,289.3 L435.0,287.8 L436.0,286.2 L437.0,284.7 L438.0,283.1 L439.0,281.5 L440.0,279.9 L441.0,278.2 L442.0,276.6 L443.0,275.0 L444.0,273.5 L445.0,272.0 L446.0,270.6 L447.0,269.3 L448.0,268.1 L449.0,267.1 L450.0,266.2 L451.0,265.5 L452.0,265.0 L453.0,264.7 L454.0,264.6" fill="none" stroke="#0000ff" stroke-width="1.15" stroke-dasharray="2.85 1.25"/>
<path d="M537.0,347.2 L536.0,347.1 L535.0,347.1 L534.0,347.1 L533.0,347.1 L532.0,347.1 L531.0,347.1 L530.0,347.2 L529.0,347.2 L528.0,347.2 L527.0,347.2 L526.0,347.2 L525.0,347.2 L524.0,347.2 L523.0,347.2 L522.0,347.2 L521.0,347.2 L520.0,347.2 L519.0,347.1 L518.0,346.9 L517.0,346.8 L516.0,346.5 L515.0,346.3 L514.0,346.0 L513.0,345.6 L512.0,345.2 L511.0,344.7 L510.0,344.2 L509.0,343.6 L508.0,342.9 L507.0,342.1 L506.0,341.3 L505.0,340.4 L504.0,339.5 L503.0,338.4 L502.0,337.3 L501.0,336.1 L500.0,334.9 L499.0,333.6 L498.0,332.3 L497.0,330.9 L496.0,329.5 L495.0,328.0 L494.0,326.6 L493.0,325.0 L492.0,323.5 L491.0,321.9 L490.0,320.3 L489.0,318.6 L488.0,317.0 L487.0,315.3 L486.0,313.7 L485.0,312.0 L484.0,310.3 L483.0,308.6 L482.0,306.8 L481.0,305.1 L480.0,303.3 L479.0,301.6 L478.0,299.8 L477.0,298.0 L476.0,296.2 L475.0,294.4 L474.0,292.5 L473.0,290.7 L472.0,288.8 L471.0,287.0 L470.0,285.1 L469.0,283.2 L468.0,281.3 L467.0,279.5 L466.0,277.7 L465.0,275.9 L464.0,274.2 L463.0,272.6 L462.0,271.2 L461.0,269.8 L460.0,268.5 L459.0,267.5 L458.0,266.5 L457.0,265.8 L456.0,265.2 L455.0,264.8 L454.0,264.6" fill="none" stroke="#0000ff" stroke-width="1.15" stroke-dasharray="2.85 1.25"/>
<path d="M364.0,347.2 L454.0,347.2" fill="none" stroke="#0000ff" stroke-width="1.15" stroke-dasharray="2.85 1.25"/>
<path d="M537.0,347.2 L454.0,347.2" fill="none" stroke="#0000ff" stroke-width="1.15" stroke-dasharray="2.85 1.25"/>
<path d="M336.0,347.2 L337.0,347.2 L338.0,347.2 L339.0,347.2 L340.0,347.2 L341.0,347.2 L342.0,347.2 L343.0,347.2 L344.0,347.2 L345.0,347.2 L346.0,347.2 L347.0,347.2 L348.0,347.2 L349.0,347.1 L350.0,347.0 L351.0,346.8 L352.0,346.6 L353.0,346.3 L354.0,346.0 L355.0,345.6 L356.0,345.2 L357.0,344.7 L358.0,344.1 L359.0,343.5 L360.0,342.8 L361.0,342.0 L362.0,341.1 L363.0,340.1 L364.0,339.0 L365.0,337.8 L366.0,336.6 L367.0,335.2 L368.0,333.7 L369.0,332.0 L370.0,330.3 L371.0,328.4 L372.0,326.4 L373.0,324.3 L374.0,322.0 L375.0,319.6 L376.0,317.0 L377.0,314.4 L378.0,311.6 L379.0,308.8 L380.0,306.0 L381.0,303.1 L382.0,300.2 L383.0,297.3 L384.0,294.5 L385.0,291.8 L386.0,289.1 L387.0,286.5 L388.0,284.0 L389.0,281.7 L390.0,279.5 L391.0,277.4 L392.0,275.6 L393.0,273.9 L394.0,272.3 L395.0,270.9 L396.0,269.7 L397.0,268.6 L398.0,267.7 L399.0,266.9 L400.0,266.3 L401.0,265.9 L402.0,265.6 L403.0,265.5 L404.0,265.5 L405.0,265.7 L406.0,266.1 L407.0,266.6 L408.0,267.2 L409.0,268.1 L410.0,269.1 L411.0,270.2 L412.0,271.5 L413.0,272.9 L414.0,274.5 L415.0,276.2 L416.0,277.9 L417.0,279.8 L418.0,281.7 L419.0,283.7 L420.0,285.7 L421.0,287.7 L422.0,289.8 L423.0,291.8 L424.0,293.8 L425.0,295.8 L426.0,297.8 L427.0,299.7 L428.0,301.5 L429.0,303.2 L430.0,304.9 L431.0,306.4 L432.0,307.9 L433.0,309.2 L434.0,310.5 L435.0,311.6 L436.0,312.6 L437.0,313.5 L438.0,314.3 L439.0,315.0 L440.0,315.6 L441.0,316.2 L442.0,316.7 L443.0,317.1 L444.0,317.5 L445.0,317.9 L446.0,318.2 L447.0,318.6 L448.0,318.9 L449.0,319.1 L450.0,319.4 L451.0,319.7 L452.0,320.0 L453.0,320.3 L454.0,320.6 L455.0,320.9 L456.0,321.2 L457.0,321.5 L458.0,321.8 L459.0,322.1 L460.0,322.4 L461.0,322.7 L462.0,323.0 L463.0,323.3 L464.0,323.6 L465.0,323.8 L466.0,324.1 L467.0,324.4 L468.0,324.7 L469.0,325.0 L470.0,325.4 L471.0,325.7 L472.0,326.1 L473.0,326.5 L474.0,326.9 L475.0,327.3 L476.0,327.8 L477.0,328.3 L478.0,328.8 L479.0,329.3 L480.0,329.9 L481.0,330.5 L482.0,331.1 L483.0,331.7 L484.0,332.3 L485.0,333.0 L486.0,333.7 L487.0,334.4 L488.0,335.1 L489.0,335.8 L490.0,336.5 L491.0,337.2 L492.0,338.0 L493.0,338.7 L494.0,339.5 L495.0,340.2 L496.0,341.0 L497.0,341.7 L498.0,342.4 L499.0,343.0 L500.0,343.7 L501.0,344.2 L502.0,344.8 L503.0,345.2 L504.0,345.7 L505.0,346.0 L506.0,346.3 L507.0,346.5 L508.0,346.7 L509.0,346.9 L510.0,347.0 L511.0,347.0 L512.0,347.1 L513.0,347.1 L514.0,347.1 L515.0,347.0 L516.0,347.0 L517.0,347.0 L518.0,346.9 L519.0,346.9 L520.0,346.9 L521.0,346.9 L522.0,347.0 L523.0,347.1 L524.0,347.2 Z" fill="#008000" fill-opacity="0.25" stroke="none"/>
<path d="M336.0,347.2 L337.0,347.2 L338.0,347.2 L339.0,347.2 L340.0,347.2 L341.0,347.2 L342.0,347.2 L343.0,347.2 L344.0,347.2 L345.0,347.2 L346.0,347.2 L347.0,347.2 L348.0,347.2 L349.0,347.1 L350.0,347.0 L351.0,346.8 L352.0,346.6 L353.0,346.3 L354.0,346.0 L355.0,345.6 L356.0,345.2 L357.0,344.7 L358.0,344.1 L359.0,343.5 L360.0,342.8 L361.0,342.0 L362.0,341.1 L363.0,340.1 L364.0,339.0 L365.0,337.8 L366.0,336.6 L367.0,335.2 L368.0,333.7 L369.0,332.0 L370.0,330.3 L371.0,328.4 L372.0,326.4 L373.0,324.3 L374.0,322.0 L375.0,319.6 L376.0,317.0 L377.0,314.4 L378.0,311.6 L379.0,308.8 L380.0,306.0 L381.0,303.1 L382.0,300.2 L383.0,297.3 L384.0,294.5 L385.0,291.8 L386.0,289.1 L387.0,286.5 L388.0,284.0 L389.0,281.7 L390.0,279.5 L391.0,277.4 L392.0,275.6 L393.0,273.9 L394.0,272.3 L395.0,270.9 L396.0,269.7 L397.0,268.6 L398.0,267.7 L399.0,266.9 L400.0,266.3 L401.0,265.9 L402.0,265.6 L403.0,265.5" fill="none" stroke="#008000" stroke-width="1.15" stroke-dasharray="2.85 1.25"/>
<path d="M524.0,347.2 L523.0,347.1 L522.0,347.0 L521.0,346.9 L520.0,346.9 L519.0,346.9 L518.0,346.9 L517.0,347.0 L516.0,347.0 L515.0,347.0 L514.0,347.1 L513.0,347.1 L512.0,347.1 L511.0,347.0 L510.0,347.0 L509.0,346.9 L508.0,346.7 L507.0,346.5 L506.0,346.3 L505.0,346.0 L504.0,345.7 L503.0,345.2 L502.0,344.8 L501.0,344.2 L500.0,343.7 L499.0,343.0 L498.0,342.4 L497.0,341.7 L496.0,341.0 L495.0,340.2 L494.0,339.5 L493.0,338.7 L492.0,338.0 L491.0,337.2 L490.0,336.5 L489.0,335.8 L488.0,335.1 L487.0,334.4 L486.0,333.7 L485.0,333.0 L484.0,332.3 L483.0,331.7 L482.0,331.1 L481.0,330.5 L480.0,329.9 L479.0,329.3 L478.0,328.8 L477.0,328.3 L476.0,327.8 L475.0,327.3 L474.0,326.9 L473.0,326.5 L472.0,326.1 L471.0,325.7 L470.0,325.4 L469.0,325.0 L468.0,324.7 L467.0,324.4 L466.0,324.1 L465.0,323.8 L464.0,323.6 L463.0,323.3 L462.0,323.0 L461.0,322.7 L460.0,322.4 L459.0,322.1 L458.0,321.8 L457.0,321.5 L456.0,321.2 L455.0,320.9 L454.0,320.6 L453.0,320.3 L452.0,320.0 L451.0,319.7 L450.0,319.4 L449.0,319.1 L448.0,318.9 L447.0,318.6 L446.0,318.2 L445.0,317.9 L444.0,317.5 L443.0,317.1 L442.0,316.7 L441.0,316.2 L440.0,315.6 L439.0,315.0 L438.0,314.3 L437.0,313.5 L436.0,312.6 L435.0,311.6 L434.0,310.5 L433.0,309.2 L432.0,307.9 L431.0,306.4 L430.0,304.9 L429.0,303.2 L428.0,301.5 L427.0,299.7 L426.0,297.8 L425.0,295.8 L424.0,293.8 L423.0,291.8 L422.0,289.8 L421.0,287.7 L420.0,285.7 L419.0,283.7 L418.0,281.7 L417.0,279.8 L416.0,277.9 L415.0,276.2 L414.0,274.5 L413.0,272.9 L412.0,271.5 L411.0,270.2 L410.0,269.1 L409.0,268.1 L408.0,267.2 L407.0,266.6 L406.0,266.1 L405.0,265.7 L404.0,265.5 L403.0,265.5" fill="none" stroke="#008000" stroke-width="1.15" stroke-dasharray="2.85 1.25"/>
<path d="M336.0,347.2 L403.0,347.2" fill="none" stroke="#008000" stroke-width="1.15" stroke-dasharray="2.85 1.25"/>
<path d="M524.0,347.2 L403.0,347.2" fill="none" stroke="#008000" stroke-width="1.15" stroke-dasharray="2.85 1.25"/>
<path d="M363.5,347.2 L364.5,347.1 L365.5,347.0 L366.5,346.9 L367.5,346.8 L368.5,346.7 L369.5,346.6 L370.5,346.5 L371.5,346.4 L372.5,346.3 L373.5,346.3 L374.5,346.2 L375.5,346.1 L376.5,346.0 L377.5,345.9 L378.5,345.8 L379.5,345.7 L380.5,345.6 L381.5,345.4 L382.5,345.3 L383.5,345.1 L384.5,344.9 L385.5,344.7 L386.5,344.5 L387.5,344.3 L388.5,344.0 L389.5,343.8 L390.5,343.5 L391.5,343.1 L392.5,342.7 L393.5,342.3 L394.5,341.8 L395.5,341.2 L396.5,340.6 L397.5,339.8 L398.5,339.0 L399.5,338.0 L400.5,336.9 L401.5,335.7 L402.5,334.6 L403.5,333.5 L404.5,332.6 L405.5,331.7 L406.5,331.1 L407.5,330.5 L408.5,330.0 L409.5,329.5 L410.5,329.0 L411.5,328.5 L412.5,328.0 L413.5,327.5 L414.5,326.8 L415.5,326.0 L416.5,325.1 L417.5,324.1 L418.5,322.8 L419.5,321.4 L420.5,319.8 L421.5,318.0 L422.5,316.0 L423.5,313.8 L424.5,311.5 L425.5,308.9 L426.5,306.1 L427.5,303.2 L428.5,300.0 L429.5,296.6 L430.5,293.0 L431.5,289.2 L432.5,285.2 L433.5,281.0 L434.5,276.6 L435.5,272.0 L436.5,267.1 L437.5,262.0 L438.5,256.7 L439.5,251.1 L440.5,245.2 L441.5,239.0 L442.5,232.6 L443.5,226.3 L444.5,220.7 L445.5,216.2 L446.5,213.2 L447.5,211.6 L448.5,211.4 L449.5,212.2 L450.5,214.1 L451.5,216.9 L452.5,220.4 L453.5,224.6 L454.5,229.3 L455.5,234.4 L456.5,239.7 L457.5,245.2 L458.5,250.7 L459.5,256.2 L460.5,261.6 L461.5,266.9 L462.5,272.1 L463.5,277.0 L464.5,281.6 L465.5,286.0 L466.5,290.0 L467.5,293.6 L468.5,296.7 L469.5,299.4 L470.5,301.7 L471.5,303.8 L472.5,305.6 L473.5,307.2 L474.5,308.8 L475.5,310.4 L476.5,312.1 L477.5,313.9 L478.5,315.9 L479.5,318.0 L480.5,320.2 L481.5,322.4 L482.5,324.6 L483.5,326.7 L484.5,328.8 L485.5,330.8 L486.5,332.7 L487.5,334.4 L488.5,336.0 L489.5,337.5 L490.5,338.8 L491.5,340.1 L492.5,341.2 L493.5,342.2 L494.5,343.1 L495.5,343.9 L496.5,344.6 L497.5,345.3 L498.5,345.8 L499.5,346.3 L500.5,346.7 L501.5,347.0 L502.5,347.2 L503.5,347.2 L504.5,347.2 L505.5,347.2 L506.5,347.2 L507.5,347.2 L508.5,347.2 L509.5,347.2 Z" fill="#ff0000" fill-opacity="0.25" stroke="none"/>
<path d="M363.5,347.2 L364.5,347.1 L365.5,347.0 L366.5,346.9 L367.5,346.8 L368.5,346.7 L369.5,346.6 L370.5,346.5 L371.5,346.4 L372.5,346.3 L373.5,346.3 L374.5,346.2 L375.5,346.1 L376.5,346.0 L377.5,345.9 L378.5,345.8 L379.5,345.7 L380.5,345.6 L381.5,345.4 L382.5,345.3 L383.5,345.1 L384.5,344.9 L385.5,344.7 L386.5,344.5 L387.5,344.3 L388.5,344.0 L389.5,343.8 L390.5,343.5 L391.5,343.1 L392.5,342.7 L393.5,342.3 L394.5,341.8 L395.5,341.2 L396.5,340.6 L397.5,339.8 L398.5,339.0 L399.5,338.0 L400.5,336.9 L401.5,335.7 L402.5,334.6 L403.5,333.5 L404.5,332.6 L405.5,331.7 L406.5,331.1 L407.5,330.5 L408.5,330.0 L409.5,329.5 L410.5,329.0 L411.5,328.5 L412.5,328.0 L413.5,327.5 L414.5,326.8 L415.5,326.0 L416.5,325.1 L417.5,324.1 L418.5,322.8 L419.5,321.4 L420.5,319.8 L421.5,318.0 L422.5,316.0 L423.5,313.8 L424.5,311.5 L425.5,308.9 L426.5,306.1 L427.5,303.2 L428.5,300.0 L429.5,296.6 L430.5,293.0 L431.5,289.2 L432.5,285.2 L433.5,281.0 L434.5,276.6 L435.5,272.0 L436.5,267.1 L437.5,262.0 L438.5,256.7 L439.5,251.1 L440.5,245.2 L441.5,239.0 L442.5,232.6 L443.5,226.3 L444.5,220.7 L445.5,216.2 L446.5,213.2 L447.5,211.6 L448.5,211.4" fill="none" stroke="#ff0000" stroke-width="1.15" stroke-dasharray="2.85 1.25"/>
<path d="M509.5,347.2 L508.5,347.2 L507.5,347.2 L506.5,347.2 L505.5,347.2 L504.5,347.2 L503.5,347.2 L502.5,347.2 L501.5,347.0 L500.5,346.7 L499.5,346.3 L498.5,345.8 L497.5,345.3 L496.5,344.6 L495.5,343.9 L494.5,343.1 L493.5,342.2 L492.5,341.2 L491.5,340.1 L490.5,338.8 L489.5,337.5 L488.5,336.0 L487.5,334.4 L486.5,332.7 L485.5,330.8 L484.5,328.8 L483.5,326.7 L482.5,324.6 L481.5,322.4 L480.5,320.2 L479.5,318.0 L478.5,315.9 L477.5,313.9 L476.5,312.1 L475.5,310.4 L474.5,308.8 L473.5,307.2 L472.5,305.6 L471.5,303.8 L470.5,301.7 L469.5,299.4 L468.5,296.7 L467.5,293.6 L466.5,290.0 L465.5,286.0 L464.5,281.6 L463.5,277.0 L462.5,272.1 L461.5,266.9 L460.5,261.6 L459.5,256.2 L458.5,250.7 L457.5,245.2 L456.5,239.7 L455.5,234.4 L454.5,229.3 L453.5,224.6 L452.5,220.4 L451.5,216.9 L450.5,214.1 L449.5,212.2 L448.5,211.4" fill="none" stroke="#ff0000" stroke-width="1.15" stroke-dasharray="2.85 1.25"/>
<path d="M363.5,347.2 L448.5,347.2" fill="none" stroke="#ff0000" stroke-width="1.15" stroke-dasharray="2.85 1.25"/>
<path d="M509.5,347.2 L448.5,347.2" fill="none" stroke="#ff0000" stroke-width="1.15" stroke-dasharray="2.85 1.25"/>
</g>
<rect x="326.1" y="204.4" width="221.8" height="142.8" fill="none" stroke="#333" stroke-width="0.6"/>
<path d="M335.8,347.2 v1.9" stroke="#222" stroke-width="0.5"/>
<text x="335.8" y="356.3" text-anchor="middle" font-size="7.5"><tspan font-size="6.6">−</tspan>36</text>
<path d="M381.9,347.2 v1.9" stroke="#222" stroke-width="0.5"/>
<text x="381.9" y="356.3" text-anchor="middle" font-size="7.5"><tspan font-size="6.6">−</tspan>34</text>
<path d="M428.1,347.2 v1.9" stroke="#222" stroke-width="0.5"/>
<text x="428.1" y="356.3" text-anchor="middle" font-size="7.5"><tspan font-size="6.6">−</tspan>32</text>
<path d="M474.2,347.2 v1.9" stroke="#222" stroke-width="0.5"/>
<text x="474.2" y="356.3" text-anchor="middle" font-size="7.5"><tspan font-size="6.6">−</tspan>30</text>
<path d="M520.4,347.2 v1.9" stroke="#222" stroke-width="0.5"/>
<text x="520.4" y="356.3" text-anchor="middle" font-size="7.5"><tspan font-size="6.6">−</tspan>28</text>
<path d="M326.1,347.2 h-1.9" stroke="#222" stroke-width="0.5"/>
<text x="322.5" y="350.2" text-anchor="end" font-size="7.5">0.0</text>
<path d="M326.1,324.5 h-1.9" stroke="#222" stroke-width="0.5"/>
<text x="322.5" y="327.5" text-anchor="end" font-size="7.5">0.1</text>
<path d="M326.1,301.8 h-1.9" stroke="#222" stroke-width="0.5"/>
<text x="322.5" y="304.8" text-anchor="end" font-size="7.5">0.2</text>
<path d="M326.1,279.1 h-1.9" stroke="#222" stroke-width="0.5"/>
<text x="322.5" y="282.1" text-anchor="end" font-size="7.5">0.3</text>
<path d="M326.1,256.4 h-1.9" stroke="#222" stroke-width="0.5"/>
<text x="322.5" y="259.4" text-anchor="end" font-size="7.5">0.4</text>
<path d="M326.1,233.7 h-1.9" stroke="#222" stroke-width="0.5"/>
<text x="322.5" y="236.7" text-anchor="end" font-size="7.5">0.5</text>
<path d="M326.1,211.0 h-1.9" stroke="#222" stroke-width="0.5"/>
<text x="322.5" y="214.0" text-anchor="end" font-size="7.5">0.6</text>
<text x="437.0" y="365.6" text-anchor="middle" font-size="7.5">Energy Score</text>
<text transform="translate(307.4,276.8) rotate(-90)" text-anchor="middle" font-size="7.5">Frequency</text>
<rect x="329.3" y="208.2" width="115.3" height="34.4" rx="1.2" fill="#fff" fill-opacity="0.8" stroke="#ccc" stroke-opacity="0.8" stroke-width="0.45"/>
<rect x="332.85" y="211.65" width="14.5" height="4.7" fill="#0000ff" fill-opacity="0.25" stroke="#0000ff" stroke-width="1.5" stroke-opacity="0.72" stroke-dasharray="4.3 1.3"/>
<text x="353.9" y="216.65" font-size="7.45">wearing mask</text>
<rect x="332.85" y="222.55" width="14.5" height="4.7" fill="#008000" fill-opacity="0.25" stroke="#008000" stroke-width="1.5" stroke-opacity="0.72" stroke-dasharray="4.3 1.3"/>
<text x="353.9" y="227.55" font-size="7.45">incorrect mask-wearing</text>
<rect x="332.85" y="233.45" width="14.5" height="4.7" fill="#ff0000" fill-opacity="0.25" stroke="#ff0000" stroke-width="1.5" stroke-opacity="0.72" stroke-dasharray="4.3 1.3"/>
<text x="353.9" y="238.45" font-size="7.45">without mask</text>
<text x="413.4" y="383.2" font-family="'Liberation Serif', 'DejaVu Serif', serif" font-size="11.9" font-weight="bold" fill="#1c1c1c" stroke-width="0.1" textLength="16.7" lengthAdjust="spacingAndGlyphs">(d)</text>
<text x="433.0" y="383.2" font-family="'Liberation Serif', 'DejaVu Serif', serif" font-size="11.2" fill="#1c1c1c" stroke-width="0.1" textLength="28.4" lengthAdjust="spacingAndGlyphs">T = 50</text>
</g>
</g></svg>
</body></html>
